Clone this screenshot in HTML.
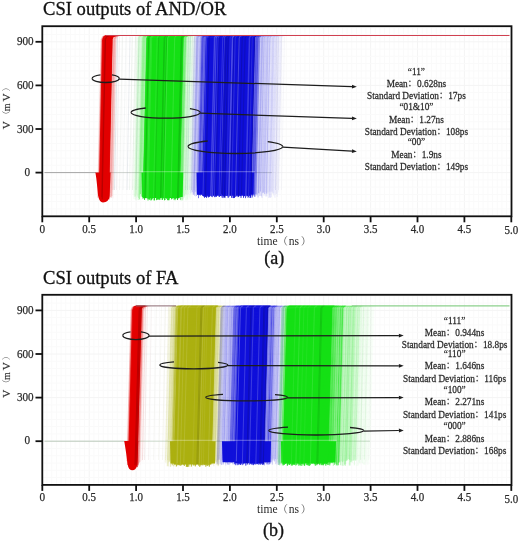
<!DOCTYPE html>
<html><head><meta charset="utf-8"><title>CSI outputs</title>
<style>
html,body{margin:0;padding:0;background:#fff;}
body{width:520px;height:542px;overflow:hidden;}
svg{display:block;font-family:"Liberation Serif", "Noto Serif CJK SC", serif;}
</style></head>
<body>
<svg width="520" height="542" viewBox="0 0 520 542">
<rect width="520" height="542" fill="#fff"/>
<line x1="46.99" y1="27.2" x2="46.99" y2="215.3" stroke="#fafafa"/>
<line x1="51.68" y1="27.2" x2="51.68" y2="215.3" stroke="#fafafa"/>
<line x1="56.37" y1="27.2" x2="56.37" y2="215.3" stroke="#fafafa"/>
<line x1="61.06" y1="27.2" x2="61.06" y2="215.3" stroke="#fafafa"/>
<line x1="65.75" y1="27.2" x2="65.75" y2="215.3" stroke="#fafafa"/>
<line x1="70.44" y1="27.2" x2="70.44" y2="215.3" stroke="#fafafa"/>
<line x1="75.13" y1="27.2" x2="75.13" y2="215.3" stroke="#fafafa"/>
<line x1="79.82" y1="27.2" x2="79.82" y2="215.3" stroke="#fafafa"/>
<line x1="84.51" y1="27.2" x2="84.51" y2="215.3" stroke="#fafafa"/>
<line x1="89.2" y1="27.2" x2="89.2" y2="215.3" stroke="#f4f4f4"/>
<line x1="93.89" y1="27.2" x2="93.89" y2="215.3" stroke="#fafafa"/>
<line x1="98.58" y1="27.2" x2="98.58" y2="215.3" stroke="#fafafa"/>
<line x1="103.27" y1="27.2" x2="103.27" y2="215.3" stroke="#fafafa"/>
<line x1="107.96" y1="27.2" x2="107.96" y2="215.3" stroke="#fafafa"/>
<line x1="112.65" y1="27.2" x2="112.65" y2="215.3" stroke="#fafafa"/>
<line x1="117.34" y1="27.2" x2="117.34" y2="215.3" stroke="#fafafa"/>
<line x1="122.03" y1="27.2" x2="122.03" y2="215.3" stroke="#fafafa"/>
<line x1="126.72" y1="27.2" x2="126.72" y2="215.3" stroke="#fafafa"/>
<line x1="131.41" y1="27.2" x2="131.41" y2="215.3" stroke="#fafafa"/>
<line x1="136.1" y1="27.2" x2="136.1" y2="215.3" stroke="#f4f4f4"/>
<line x1="140.79" y1="27.2" x2="140.79" y2="215.3" stroke="#fafafa"/>
<line x1="145.48" y1="27.2" x2="145.48" y2="215.3" stroke="#fafafa"/>
<line x1="150.17" y1="27.2" x2="150.17" y2="215.3" stroke="#fafafa"/>
<line x1="154.86" y1="27.2" x2="154.86" y2="215.3" stroke="#fafafa"/>
<line x1="159.55" y1="27.2" x2="159.55" y2="215.3" stroke="#fafafa"/>
<line x1="164.24" y1="27.2" x2="164.24" y2="215.3" stroke="#fafafa"/>
<line x1="168.93" y1="27.2" x2="168.93" y2="215.3" stroke="#fafafa"/>
<line x1="173.62" y1="27.2" x2="173.62" y2="215.3" stroke="#fafafa"/>
<line x1="178.31" y1="27.2" x2="178.31" y2="215.3" stroke="#fafafa"/>
<line x1="183" y1="27.2" x2="183" y2="215.3" stroke="#f4f4f4"/>
<line x1="187.69" y1="27.2" x2="187.69" y2="215.3" stroke="#fafafa"/>
<line x1="192.38" y1="27.2" x2="192.38" y2="215.3" stroke="#fafafa"/>
<line x1="197.07" y1="27.2" x2="197.07" y2="215.3" stroke="#fafafa"/>
<line x1="201.76" y1="27.2" x2="201.76" y2="215.3" stroke="#fafafa"/>
<line x1="206.45" y1="27.2" x2="206.45" y2="215.3" stroke="#fafafa"/>
<line x1="211.14" y1="27.2" x2="211.14" y2="215.3" stroke="#fafafa"/>
<line x1="215.83" y1="27.2" x2="215.83" y2="215.3" stroke="#fafafa"/>
<line x1="220.52" y1="27.2" x2="220.52" y2="215.3" stroke="#fafafa"/>
<line x1="225.21" y1="27.2" x2="225.21" y2="215.3" stroke="#fafafa"/>
<line x1="229.9" y1="27.2" x2="229.9" y2="215.3" stroke="#f4f4f4"/>
<line x1="234.59" y1="27.2" x2="234.59" y2="215.3" stroke="#fafafa"/>
<line x1="239.28" y1="27.2" x2="239.28" y2="215.3" stroke="#fafafa"/>
<line x1="243.97" y1="27.2" x2="243.97" y2="215.3" stroke="#fafafa"/>
<line x1="248.66" y1="27.2" x2="248.66" y2="215.3" stroke="#fafafa"/>
<line x1="253.35" y1="27.2" x2="253.35" y2="215.3" stroke="#fafafa"/>
<line x1="258.04" y1="27.2" x2="258.04" y2="215.3" stroke="#fafafa"/>
<line x1="262.73" y1="27.2" x2="262.73" y2="215.3" stroke="#fafafa"/>
<line x1="267.42" y1="27.2" x2="267.42" y2="215.3" stroke="#fafafa"/>
<line x1="272.11" y1="27.2" x2="272.11" y2="215.3" stroke="#fafafa"/>
<line x1="276.8" y1="27.2" x2="276.8" y2="215.3" stroke="#f4f4f4"/>
<line x1="281.49" y1="27.2" x2="281.49" y2="215.3" stroke="#fafafa"/>
<line x1="286.18" y1="27.2" x2="286.18" y2="215.3" stroke="#fafafa"/>
<line x1="290.87" y1="27.2" x2="290.87" y2="215.3" stroke="#fafafa"/>
<line x1="295.56" y1="27.2" x2="295.56" y2="215.3" stroke="#fafafa"/>
<line x1="300.25" y1="27.2" x2="300.25" y2="215.3" stroke="#fafafa"/>
<line x1="304.94" y1="27.2" x2="304.94" y2="215.3" stroke="#fafafa"/>
<line x1="309.63" y1="27.2" x2="309.63" y2="215.3" stroke="#fafafa"/>
<line x1="314.32" y1="27.2" x2="314.32" y2="215.3" stroke="#fafafa"/>
<line x1="319.01" y1="27.2" x2="319.01" y2="215.3" stroke="#fafafa"/>
<line x1="323.7" y1="27.2" x2="323.7" y2="215.3" stroke="#f4f4f4"/>
<line x1="328.39" y1="27.2" x2="328.39" y2="215.3" stroke="#fafafa"/>
<line x1="333.08" y1="27.2" x2="333.08" y2="215.3" stroke="#fafafa"/>
<line x1="337.77" y1="27.2" x2="337.77" y2="215.3" stroke="#fafafa"/>
<line x1="342.46" y1="27.2" x2="342.46" y2="215.3" stroke="#fafafa"/>
<line x1="347.15" y1="27.2" x2="347.15" y2="215.3" stroke="#fafafa"/>
<line x1="351.84" y1="27.2" x2="351.84" y2="215.3" stroke="#fafafa"/>
<line x1="356.53" y1="27.2" x2="356.53" y2="215.3" stroke="#fafafa"/>
<line x1="361.22" y1="27.2" x2="361.22" y2="215.3" stroke="#fafafa"/>
<line x1="365.91" y1="27.2" x2="365.91" y2="215.3" stroke="#fafafa"/>
<line x1="370.6" y1="27.2" x2="370.6" y2="215.3" stroke="#f4f4f4"/>
<line x1="375.29" y1="27.2" x2="375.29" y2="215.3" stroke="#fafafa"/>
<line x1="379.98" y1="27.2" x2="379.98" y2="215.3" stroke="#fafafa"/>
<line x1="384.67" y1="27.2" x2="384.67" y2="215.3" stroke="#fafafa"/>
<line x1="389.36" y1="27.2" x2="389.36" y2="215.3" stroke="#fafafa"/>
<line x1="394.05" y1="27.2" x2="394.05" y2="215.3" stroke="#fafafa"/>
<line x1="398.74" y1="27.2" x2="398.74" y2="215.3" stroke="#fafafa"/>
<line x1="403.43" y1="27.2" x2="403.43" y2="215.3" stroke="#fafafa"/>
<line x1="408.12" y1="27.2" x2="408.12" y2="215.3" stroke="#fafafa"/>
<line x1="412.81" y1="27.2" x2="412.81" y2="215.3" stroke="#fafafa"/>
<line x1="417.5" y1="27.2" x2="417.5" y2="215.3" stroke="#f4f4f4"/>
<line x1="422.19" y1="27.2" x2="422.19" y2="215.3" stroke="#fafafa"/>
<line x1="426.88" y1="27.2" x2="426.88" y2="215.3" stroke="#fafafa"/>
<line x1="431.57" y1="27.2" x2="431.57" y2="215.3" stroke="#fafafa"/>
<line x1="436.26" y1="27.2" x2="436.26" y2="215.3" stroke="#fafafa"/>
<line x1="440.95" y1="27.2" x2="440.95" y2="215.3" stroke="#fafafa"/>
<line x1="445.64" y1="27.2" x2="445.64" y2="215.3" stroke="#fafafa"/>
<line x1="450.33" y1="27.2" x2="450.33" y2="215.3" stroke="#fafafa"/>
<line x1="455.02" y1="27.2" x2="455.02" y2="215.3" stroke="#fafafa"/>
<line x1="459.71" y1="27.2" x2="459.71" y2="215.3" stroke="#fafafa"/>
<line x1="464.4" y1="27.2" x2="464.4" y2="215.3" stroke="#f4f4f4"/>
<line x1="469.09" y1="27.2" x2="469.09" y2="215.3" stroke="#fafafa"/>
<line x1="473.78" y1="27.2" x2="473.78" y2="215.3" stroke="#fafafa"/>
<line x1="478.47" y1="27.2" x2="478.47" y2="215.3" stroke="#fafafa"/>
<line x1="483.16" y1="27.2" x2="483.16" y2="215.3" stroke="#fafafa"/>
<line x1="487.85" y1="27.2" x2="487.85" y2="215.3" stroke="#fafafa"/>
<line x1="492.54" y1="27.2" x2="492.54" y2="215.3" stroke="#fafafa"/>
<line x1="497.23" y1="27.2" x2="497.23" y2="215.3" stroke="#fafafa"/>
<line x1="501.92" y1="27.2" x2="501.92" y2="215.3" stroke="#fafafa"/>
<line x1="506.61" y1="27.2" x2="506.61" y2="215.3" stroke="#fafafa"/>
<line x1="43.3" y1="208.93" x2="510.5" y2="208.93" stroke="#fafafa"/>
<line x1="43.3" y1="201.67" x2="510.5" y2="201.67" stroke="#fafafa"/>
<line x1="43.3" y1="194.4" x2="510.5" y2="194.4" stroke="#fafafa"/>
<line x1="43.3" y1="187.13" x2="510.5" y2="187.13" stroke="#fafafa"/>
<line x1="43.3" y1="179.87" x2="510.5" y2="179.87" stroke="#fafafa"/>
<line x1="43.3" y1="172.6" x2="510.5" y2="172.6" stroke="#f4f4f4"/>
<line x1="43.3" y1="165.33" x2="510.5" y2="165.33" stroke="#fafafa"/>
<line x1="43.3" y1="158.07" x2="510.5" y2="158.07" stroke="#fafafa"/>
<line x1="43.3" y1="150.8" x2="510.5" y2="150.8" stroke="#fafafa"/>
<line x1="43.3" y1="143.53" x2="510.5" y2="143.53" stroke="#fafafa"/>
<line x1="43.3" y1="136.27" x2="510.5" y2="136.27" stroke="#fafafa"/>
<line x1="43.3" y1="129" x2="510.5" y2="129" stroke="#f4f4f4"/>
<line x1="43.3" y1="121.73" x2="510.5" y2="121.73" stroke="#fafafa"/>
<line x1="43.3" y1="114.47" x2="510.5" y2="114.47" stroke="#fafafa"/>
<line x1="43.3" y1="107.2" x2="510.5" y2="107.2" stroke="#fafafa"/>
<line x1="43.3" y1="99.93" x2="510.5" y2="99.93" stroke="#fafafa"/>
<line x1="43.3" y1="92.67" x2="510.5" y2="92.67" stroke="#fafafa"/>
<line x1="43.3" y1="85.4" x2="510.5" y2="85.4" stroke="#f4f4f4"/>
<line x1="43.3" y1="78.13" x2="510.5" y2="78.13" stroke="#fafafa"/>
<line x1="43.3" y1="70.87" x2="510.5" y2="70.87" stroke="#fafafa"/>
<line x1="43.3" y1="63.6" x2="510.5" y2="63.6" stroke="#fafafa"/>
<line x1="43.3" y1="56.33" x2="510.5" y2="56.33" stroke="#fafafa"/>
<line x1="43.3" y1="49.07" x2="510.5" y2="49.07" stroke="#fafafa"/>
<line x1="43.3" y1="41.8" x2="510.5" y2="41.8" stroke="#f4f4f4"/>
<line x1="43.3" y1="34.53" x2="510.5" y2="34.53" stroke="#fafafa"/>
<line x1="43.3" y1="27.27" x2="510.5" y2="27.27" stroke="#fafafa"/>
<line x1="44.5" y1="172.6" x2="96" y2="172.6" stroke="#a6a6a6" stroke-width="1"/>
<line x1="96" y1="172.6" x2="272" y2="172.6" stroke="#d0d4d0" stroke-width="1"/>
<path d="M113,190 L116,36.5" stroke="#dd8888" stroke-opacity="0.3" stroke-width="0.9" fill="none"/>
<path d="M114.5,190 L117.5,36.5" stroke="#8899aa" stroke-opacity="0.25" stroke-width="0.9" fill="none"/>
<path d="M116.5,190 L119.5,36.5" stroke="#aa99aa" stroke-opacity="0.15" stroke-width="0.9" fill="none"/>
<path d="M119.5,190 L122.5,36.5" stroke="#99aa99" stroke-opacity="0.12" stroke-width="0.9" fill="none"/>
<path d="M123,190 L126,36.5" stroke="#99aaaa" stroke-opacity="0.12" stroke-width="0.9" fill="none"/>
<path d="M127,190 L130,36.5" stroke="#8899aa" stroke-opacity="0.2" stroke-width="0.9" fill="none"/>
<path d="M129.5,190 L132.5,36.5" stroke="#99bb99" stroke-opacity="0.15" stroke-width="0.9" fill="none"/>
<path d="M132.5,190 L135.5,36.5" stroke="#88bb88" stroke-opacity="0.2" stroke-width="0.9" fill="none"/>
<path d="M136,190 L139,36.5" stroke="#8899aa" stroke-opacity="0.2" stroke-width="0.9" fill="none"/>
<path d="M185.5,190 L188.5,36.5" stroke="#99aabb" stroke-opacity="0.25" stroke-width="0.9" fill="none"/>
<path d="M187.5,190 L190.5,36.5" stroke="#88aacc" stroke-opacity="0.3" stroke-width="0.9" fill="none"/>
<path d="M189.5,190 L192.5,36.5" stroke="#aabbcc" stroke-opacity="0.25" stroke-width="0.9" fill="none"/>
<path d="M191.5,190 L194.5,36.5" stroke="#99aabb" stroke-opacity="0.3" stroke-width="0.9" fill="none"/>
<path d="M194,190 L197,36.5" stroke="#8899cc" stroke-opacity="0.3" stroke-width="0.9" fill="none"/>
<path d="M275.5,190 L278.5,36.5" stroke="#9999cc" stroke-opacity="0.2" stroke-width="0.9" fill="none"/>
<path d="M278.5,190 L281.5,36.5" stroke="#aaaacc" stroke-opacity="0.15" stroke-width="0.9" fill="none"/>
<path d="M281.5,190 L284.5,36.5" stroke="#aaaacc" stroke-opacity="0.1" stroke-width="0.9" fill="none"/>
<path d="M95.4,172.4 C96.8,180 97.5,190 98.2,196 Q99.5,202.6 103,202.5 Q108.8,202.3 109.6,196 L110.6,172.4 Z" fill="#e20000"/>
<path d="M99.3,197.5 L103.1,38 L112.5,36.5 L108.7,197.5 Z" fill="#e20000"/>
<path d="M97.7,197.56 L101.02,39.5 Q101.5,35.5 105.5,35.5 M110.2,193.27 L113.52,39.5 Q114,35.5 118,35.5" fill="none" stroke="#e20000" stroke-opacity="0.16" stroke-width="0.9"/>
<path d="M98.2,197.91 L101.52,39.5 Q102,35.5 106,35.5 M109.7,198.3 L113.02,39.5 Q113.5,35.5 117.5,35.5" fill="none" stroke="#e20000" stroke-opacity="0.18" stroke-width="0.9"/>
<path d="M98.7,195.76 L102.02,39.5 Q102.5,35.5 106.5,35.5" fill="none" stroke="#e20000" stroke-opacity="0.41" stroke-width="0.9"/>
<path d="M99.2,195.67 L102.52,39.5 Q103,35.5 107,35.5 M99.7,195.81 L103.02,39.5 Q103.5,35.5 107.5,35.5 M100.2,197.41 L103.52,39.5 Q104,35.5 108,35.5 M100.7,196.06 L104.02,39.5 Q104.5,35.5 108.5,35.5 M101.2,198.32 L104.52,39.5 Q105,35.5 109,35.5 M102.7,196.15 L106.02,39.5 Q106.5,35.5 110.5,35.5 M103.2,196.89 L106.52,39.5 Q107,35.5 111,35.5 M103.7,196.31 L107.02,39.5 Q107.5,35.5 111.5,35.5 M104.2,198.38 L107.52,39.5 Q108,35.5 112,35.5 M104.7,197.96 L108.02,39.5 Q108.5,35.5 112.5,35.5 M105.2,195.77 L108.52,39.5 Q109,35.5 113,35.5 M105.7,198.56 L109.02,39.5 Q109.5,35.5 113.5,35.5 M106.2,196.91 L109.52,39.5 Q110,35.5 114,35.5 M106.7,197.54 L110.02,39.5 Q110.5,35.5 114.5,35.5 M107.2,199.07 L110.52,39.5 Q111,35.5 115,35.5 M107.7,196.6 L111.02,39.5 Q111.5,35.5 115.5,35.5 M108.2,197.86 L111.52,39.5 Q112,35.5 116,35.5 M108.7,198.78 L112.02,39.5 Q112.5,35.5 116.5,35.5" fill="none" stroke="#e20000" stroke-opacity="1.00" stroke-width="0.9"/>
<path d="M101.7,197.29 L105.02,39.5 Q105.5,35.5 109.5,35.5" fill="none" stroke="#c20000" stroke-opacity="1.00" stroke-width="0.9"/>
<path d="M102.2,199.36 L105.52,39.5 Q106,35.5 110,35.5" fill="none" stroke="#b60000" stroke-opacity="1.00" stroke-width="0.9"/>
<path d="M109.2,199.91 L112.52,39.5 Q113,35.5 117,35.5" fill="none" stroke="#e20000" stroke-opacity="0.27" stroke-width="0.9"/>
<path d="M110.7,197.01 L114.02,39.5 Q114.5,35.5 118.5,35.5" fill="none" stroke="#e20000" stroke-opacity="0.26" stroke-width="0.9"/>
<path d="M111.2,197.87 L114.52,39.5 Q115,35.5 119,35.5" fill="none" stroke="#e20000" stroke-opacity="0.24" stroke-width="0.9"/>
<path d="M111.7,196.19 L115.02,39.5 Q115.5,35.5 119.5,35.5" fill="none" stroke="#e20000" stroke-opacity="0.14" stroke-width="0.9"/>
<path d="M112.2,196.32 L115.52,39.5 Q116,35.5 120,35.5" fill="none" stroke="#e20000" stroke-opacity="0.12" stroke-width="0.9"/>
<path d="M112.7,197.91 L116.02,39.5 Q116.5,35.5 120.5,35.5" fill="none" stroke="#e20000" stroke-opacity="0.04" stroke-width="0.9"/>
<path d="M113.2,198.75 L116.52,39.5 Q117,35.5 121,35.5" fill="none" stroke="#e20000" stroke-opacity="0.03" stroke-width="0.9"/>
<path d="M113.7,197.68 L117.02,39.5 Q117.5,35.5 121.5,35.5" fill="none" stroke="#e20000" stroke-opacity="0.01" stroke-width="0.9"/>
<path d="M141.5,172.6 L183.2,172.6 L182.7,197.1 L142,197.1 Z" fill="#14e014"/>
<path d="M142.8,198.1 L146.8,38 L183.5,36.5 L179.5,198.1 Z" fill="#14e014"/>
<path d="M133,194.78 L136.7,38 Q137,35.5 139.5,35.5 M189,196.58 L192.7,38 Q193,35.5 195.5,35.5 M189.5,198.04 L193.2,38 Q193.5,35.5 196,35.5 M191,200.09 L194.7,38 Q195,35.5 197.5,35.5" fill="none" stroke="#14e014" stroke-opacity="0.03" stroke-width="0.9"/>
<path d="M133.5,198.98 L137.2,38 Q137.5,35.5 140,35.5 M134,196.34 L137.7,38 Q138,35.5 140.5,35.5" fill="none" stroke="#14e014" stroke-opacity="0.04" stroke-width="0.9"/>
<path d="M134.5,196.74 L138.2,38 Q138.5,35.5 141,35.5 M137.5,196.53 L141.2,38 Q141.5,35.5 144,35.5 M185.5,194.05 L189.2,38 Q189.5,35.5 192,35.5 M187,194.51 L190.7,38 Q191,35.5 193.5,35.5" fill="none" stroke="#14e014" stroke-opacity="0.11" stroke-width="0.9"/>
<path d="M135,199.33 L138.7,38 Q139,35.5 141.5,35.5 M136,200.3 L139.7,38 Q140,35.5 142.5,35.5 M184,195.83 L187.7,38 Q188,35.5 190.5,35.5 M185,195.92 L188.7,38 Q189,35.5 191.5,35.5" fill="none" stroke="#14e014" stroke-opacity="0.10" stroke-width="0.9"/>
<path d="M135.5,196.51 L139.2,38 Q139.5,35.5 142,35.5 M184.5,197.48 L188.2,38 Q188.5,35.5 191,35.5 M186,200.4 L189.7,38 Q190,35.5 192.5,35.5" fill="none" stroke="#14e014" stroke-opacity="0.14" stroke-width="0.9"/>
<path d="M136.5,195.22 L140.2,38 Q140.5,35.5 143,35.5 M183.5,197.21 L187.2,38 Q187.5,35.5 190,35.5" fill="none" stroke="#14e014" stroke-opacity="0.08" stroke-width="0.9"/>
<path d="M137,197.72 L140.7,38 Q141,35.5 143.5,35.5" fill="none" stroke="#14e014" stroke-opacity="0.09" stroke-width="0.9"/>
<path d="M138,200.27 L141.7,38 Q142,35.5 144.5,35.5" fill="none" stroke="#14e014" stroke-opacity="0.13" stroke-width="0.9"/>
<path d="M138.5,197.92 L142.2,38 Q142.5,35.5 145,35.5 M182.5,196.39 L186.2,38 Q186.5,35.5 189,35.5" fill="none" stroke="#14e014" stroke-opacity="0.20" stroke-width="0.9"/>
<path d="M139,199.9 L142.7,38 Q143,35.5 145.5,35.5" fill="none" stroke="#14e014" stroke-opacity="0.27" stroke-width="0.9"/>
<path d="M139.5,199.19 L143.2,38 Q143.5,35.5 146,35.5" fill="none" stroke="#14e014" stroke-opacity="0.33" stroke-width="0.9"/>
<path d="M140,194.32 L143.7,38 Q144,35.5 146.5,35.5 M142.5,197.74 L146.2,38 Q146.5,35.5 149,35.5 M180,199.11 L183.7,38 Q184,35.5 186.5,35.5" fill="none" stroke="#14e014" stroke-opacity="0.25" stroke-width="0.9"/>
<path d="M140.5,194.07 L144.2,38 Q144.5,35.5 147,35.5" fill="none" stroke="#14e014" stroke-opacity="0.36" stroke-width="0.9"/>
<path d="M141,196.83 L144.7,38 Q145,35.5 147.5,35.5 M181,199.32 L184.7,38 Q185,35.5 187.5,35.5" fill="none" stroke="#14e014" stroke-opacity="0.24" stroke-width="0.9"/>
<path d="M141.5,196.34 L145.2,38 Q145.5,35.5 148,35.5" fill="none" stroke="#14e014" stroke-opacity="0.31" stroke-width="0.9"/>
<path d="M142,196.78 L145.7,38 Q146,35.5 148.5,35.5" fill="none" stroke="#14e014" stroke-opacity="0.19" stroke-width="0.9"/>
<path d="M143,198.86 L146.7,38 Q147,35.5 149.5,35.5" fill="none" stroke="#37e537" stroke-opacity="1.00" stroke-width="0.9"/>
<path d="M143.5,197.24 L147.2,38 Q147.5,35.5 150,35.5 M144,197.74 L147.7,38 Q148,35.5 150.5,35.5 M144.5,199.92 L148.2,38 Q148.5,35.5 151,35.5 M145.5,196.56 L149.2,38 Q149.5,35.5 152,35.5 M146,197.29 L149.7,38 Q150,35.5 152.5,35.5 M146.5,196.83 L150.2,38 Q150.5,35.5 153,35.5 M147.5,198.54 L151.2,38 Q151.5,35.5 154,35.5 M148.5,199.23 L152.2,38 Q152.5,35.5 155,35.5 M149,197.75 L152.7,38 Q153,35.5 155.5,35.5 M149.5,199.57 L153.2,38 Q153.5,35.5 156,35.5 M150,199.61 L153.7,38 Q154,35.5 156.5,35.5 M150.5,197.1 L154.2,38 Q154.5,35.5 157,35.5 M151,200.53 L154.7,38 Q155,35.5 157.5,35.5 M151.5,199.73 L155.2,38 Q155.5,35.5 158,35.5 M152,199.43 L155.7,38 Q156,35.5 158.5,35.5 M152.5,198.43 L156.2,38 Q156.5,35.5 159,35.5 M153,196.23 L156.7,38 Q157,35.5 159.5,35.5 M154,200.4 L157.7,38 Q158,35.5 160.5,35.5 M154.5,200.32 L158.2,38 Q158.5,35.5 161,35.5 M155.5,197.12 L159.2,38 Q159.5,35.5 162,35.5 M156,197.02 L159.7,38 Q160,35.5 162.5,35.5 M156.5,200.15 L160.2,38 Q160.5,35.5 163,35.5 M157,198.26 L160.7,38 Q161,35.5 163.5,35.5 M157.5,199.7 L161.2,38 Q161.5,35.5 164,35.5 M158,199.07 L161.7,38 Q162,35.5 164.5,35.5 M158.5,199.62 L162.2,38 Q162.5,35.5 165,35.5 M159,198.25 L162.7,38 Q163,35.5 165.5,35.5 M159.5,199.65 L163.2,38 Q163.5,35.5 166,35.5 M160,199.7 L163.7,38 Q164,35.5 166.5,35.5 M161.5,196.78 L165.2,38 Q165.5,35.5 168,35.5 M162,199.73 L165.7,38 Q166,35.5 168.5,35.5 M162.5,199.82 L166.2,38 Q166.5,35.5 169,35.5 M163.5,196.69 L167.2,38 Q167.5,35.5 170,35.5 M164.5,200.3 L168.2,38 Q168.5,35.5 171,35.5 M165,200.02 L168.7,38 Q169,35.5 171.5,35.5 M165.5,197.05 L169.2,38 Q169.5,35.5 172,35.5 M166,197.42 L169.7,38 Q170,35.5 172.5,35.5 M166.5,198.74 L170.2,38 Q170.5,35.5 173,35.5 M167,197.99 L170.7,38 Q171,35.5 173.5,35.5 M167.5,200.2 L171.2,38 Q171.5,35.5 174,35.5 M168,198.16 L171.7,38 Q172,35.5 174.5,35.5 M168.5,200.17 L172.2,38 Q172.5,35.5 175,35.5 M169,200.23 L172.7,38 Q173,35.5 175.5,35.5 M169.5,198.49 L173.2,38 Q173.5,35.5 176,35.5 M170,196.18 L173.7,38 Q174,35.5 176.5,35.5 M170.5,196.92 L174.2,38 Q174.5,35.5 177,35.5 M171.5,199.36 L175.2,38 Q175.5,35.5 178,35.5 M172,197.57 L175.7,38 Q176,35.5 178.5,35.5 M172.5,198.6 L176.2,38 Q176.5,35.5 179,35.5 M173,196.58 L176.7,38 Q177,35.5 179.5,35.5 M173.5,197.22 L177.2,38 Q177.5,35.5 180,35.5 M174,199.58 L177.7,38 Q178,35.5 180.5,35.5 M174.5,198.63 L178.2,38 Q178.5,35.5 181,35.5 M175,200.21 L178.7,38 Q179,35.5 181.5,35.5 M175.5,198.86 L179.2,38 Q179.5,35.5 182,35.5 M176,198.4 L179.7,38 Q180,35.5 182.5,35.5 M176.5,198.14 L180.2,38 Q180.5,35.5 183,35.5 M177,198.25 L180.7,38 Q181,35.5 183.5,35.5 M179,198.09 L182.7,38 Q183,35.5 185.5,35.5 M179.5,197.18 L183.2,38 Q183.5,35.5 186,35.5" fill="none" stroke="#14e014" stroke-opacity="1.00" stroke-width="0.9"/>
<path d="M145,198.28 L148.7,38 Q149,35.5 151.5,35.5" fill="none" stroke="#11be11" stroke-opacity="1.00" stroke-width="0.9"/>
<path d="M147,198.48 L150.7,38 Q151,35.5 153.5,35.5" fill="none" stroke="#38e538" stroke-opacity="1.00" stroke-width="0.9"/>
<path d="M148,200.5 L151.7,38 Q152,35.5 154.5,35.5" fill="none" stroke="#2fe32f" stroke-opacity="1.00" stroke-width="0.9"/>
<path d="M153.5,197.27 L157.2,38 Q157.5,35.5 160,35.5" fill="none" stroke="#29e329" stroke-opacity="1.00" stroke-width="0.9"/>
<path d="M155,197.74 L158.7,38 Q159,35.5 161.5,35.5" fill="none" stroke="#12c912" stroke-opacity="1.00" stroke-width="0.9"/>
<path d="M160.5,197.91 L164.2,38 Q164.5,35.5 167,35.5" fill="none" stroke="#11bc11" stroke-opacity="1.00" stroke-width="0.9"/>
<path d="M161,196.87 L164.7,38 Q165,35.5 167.5,35.5 M177.5,200.04 L181.2,38 Q181.5,35.5 184,35.5" fill="none" stroke="#11c311" stroke-opacity="1.00" stroke-width="0.9"/>
<path d="M163,197.68 L166.7,38 Q167,35.5 169.5,35.5" fill="none" stroke="#11c211" stroke-opacity="1.00" stroke-width="0.9"/>
<path d="M164,199.02 L167.7,38 Q168,35.5 170.5,35.5" fill="none" stroke="#39e539" stroke-opacity="1.00" stroke-width="0.9"/>
<path d="M171,196.88 L174.7,38 Q175,35.5 177.5,35.5" fill="none" stroke="#35e435" stroke-opacity="1.00" stroke-width="0.9"/>
<path d="M178,198.62 L181.7,38 Q182,35.5 184.5,35.5" fill="none" stroke="#11b911" stroke-opacity="1.00" stroke-width="0.9"/>
<path d="M178.5,196.72 L182.2,38 Q182.5,35.5 185,35.5" fill="none" stroke="#12c612" stroke-opacity="1.00" stroke-width="0.9"/>
<path d="M180.5,200.14 L184.2,38 Q184.5,35.5 187,35.5" fill="none" stroke="#14e014" stroke-opacity="0.55" stroke-width="0.9"/>
<path d="M181.5,196.74 L185.2,38 Q185.5,35.5 188,35.5" fill="none" stroke="#14e014" stroke-opacity="0.42" stroke-width="0.9"/>
<path d="M182,200.45 L185.7,38 Q186,35.5 188.5,35.5" fill="none" stroke="#14e014" stroke-opacity="0.46" stroke-width="0.9"/>
<path d="M183,199.43 L186.7,38 Q187,35.5 189.5,35.5" fill="none" stroke="#14e014" stroke-opacity="0.26" stroke-width="0.9"/>
<path d="M186.5,193.88 L190.2,38 Q190.5,35.5 193,35.5 M188,200.03 L191.7,38 Q192,35.5 194.5,35.5" fill="none" stroke="#14e014" stroke-opacity="0.05" stroke-width="0.9"/>
<path d="M187.5,199.33 L191.2,38 Q191.5,35.5 194,35.5 M188.5,194.23 L192.2,38 Q192.5,35.5 195,35.5" fill="none" stroke="#14e014" stroke-opacity="0.07" stroke-width="0.9"/>
<path d="M190,199.59 L193.7,38 Q194,35.5 196.5,35.5" fill="none" stroke="#14e014" stroke-opacity="0.06" stroke-width="0.9"/>
<path d="M190.5,196.78 L194.2,38 Q194.5,35.5 197,35.5 M191.5,197.29 L195.2,38 Q195.5,35.5 198,35.5" fill="none" stroke="#14e014" stroke-opacity="0.02" stroke-width="0.9"/>
<path d="M192,194.73 L195.7,38 Q196,35.5 198.5,35.5" fill="none" stroke="#14e014" stroke-opacity="0.01" stroke-width="0.9"/>
<path d="M196.5,172.6 L254,172.6 L253.5,194.8 L197,194.8 Z" fill="#1010da"/>
<path d="M202,195.8 L206,38 L255,36.5 L251,195.8 Z" fill="#1010da"/>
<path d="M190,193.48 L193.7,38 Q194,35.5 196.5,35.5 M276.5,194.75 L280.2,38 Q280.5,35.5 283,35.5 M278,193.54 L281.7,38 Q282,35.5 284.5,35.5" fill="none" stroke="#1010da" stroke-opacity="0.03" stroke-width="0.9"/>
<path d="M190.5,193.33 L194.2,38 Q194.5,35.5 197,35.5 M267.5,193.95 L271.2,38 Q271.5,35.5 274,35.5 M273.5,195.62 L277.2,38 Q277.5,35.5 280,35.5 M274,193.52 L277.7,38 Q278,35.5 280.5,35.5 M276,194.01 L279.7,38 Q280,35.5 282.5,35.5" fill="none" stroke="#1010da" stroke-opacity="0.06" stroke-width="0.9"/>
<path d="M191,193.73 L194.7,38 Q195,35.5 197.5,35.5 M257.5,194.52 L261.2,38 Q261.5,35.5 264,35.5 M265,192.29 L268.7,38 Q269,35.5 271.5,35.5" fill="none" stroke="#1010da" stroke-opacity="0.09" stroke-width="0.9"/>
<path d="M191.5,191.41 L195.2,38 Q195.5,35.5 198,35.5 M268.5,193.76 L272.2,38 Q272.5,35.5 275,35.5 M271.5,196.98 L275.2,38 Q275.5,35.5 278,35.5 M272.5,193.1 L276.2,38 Q276.5,35.5 279,35.5 M277,196.92 L280.7,38 Q281,35.5 283.5,35.5" fill="none" stroke="#1010da" stroke-opacity="0.05" stroke-width="0.9"/>
<path d="M192,192.63 L195.7,38 Q196,35.5 198.5,35.5 M270,191.64 L273.7,38 Q274,35.5 276.5,35.5" fill="none" stroke="#1010da" stroke-opacity="0.14" stroke-width="0.9"/>
<path d="M192.5,192.04 L196.2,38 Q196.5,35.5 199,35.5 M195.5,196.49 L199.2,38 Q199.5,35.5 202,35.5 M262.5,192.92 L266.2,38 Q266.5,35.5 269,35.5 M272,191.54 L275.7,38 Q276,35.5 278.5,35.5" fill="none" stroke="#1010da" stroke-opacity="0.12" stroke-width="0.9"/>
<path d="M193,194.77 L196.7,38 Q197,35.5 199.5,35.5" fill="none" stroke="#1010da" stroke-opacity="0.18" stroke-width="0.9"/>
<path d="M193.5,194.85 L197.2,38 Q197.5,35.5 200,35.5" fill="none" stroke="#1010da" stroke-opacity="0.20" stroke-width="0.9"/>
<path d="M194,193.7 L197.7,38 Q198,35.5 200.5,35.5 M266,196.43 L269.7,38 Q270,35.5 272.5,35.5 M266.5,193.6 L270.2,38 Q270.5,35.5 273,35.5" fill="none" stroke="#1010da" stroke-opacity="0.19" stroke-width="0.9"/>
<path d="M194.5,195.75 L198.2,38 Q198.5,35.5 201,35.5" fill="none" stroke="#1010da" stroke-opacity="0.23" stroke-width="0.9"/>
<path d="M195,191.68 L198.7,38 Q199,35.5 201.5,35.5 M262,198.09 L265.7,38 Q266,35.5 268.5,35.5 M269,198.05 L272.7,38 Q273,35.5 275.5,35.5" fill="none" stroke="#1010da" stroke-opacity="0.16" stroke-width="0.9"/>
<path d="M196,191.89 L199.7,38 Q200,35.5 202.5,35.5 M260,195.97 L263.7,38 Q264,35.5 266.5,35.5" fill="none" stroke="#1010da" stroke-opacity="0.15" stroke-width="0.9"/>
<path d="M196.5,195.99 L200.2,38 Q200.5,35.5 203,35.5 M251.5,196.15 L255.2,38 Q255.5,35.5 258,35.5" fill="none" stroke="#1010da" stroke-opacity="0.30" stroke-width="0.9"/>
<path d="M197,193.35 L200.7,38 Q201,35.5 203.5,35.5 M257,195.51 L260.7,38 Q261,35.5 263.5,35.5 M258.5,193.03 L262.2,38 Q262.5,35.5 265,35.5" fill="none" stroke="#1010da" stroke-opacity="0.17" stroke-width="0.9"/>
<path d="M197.5,194.51 L201.2,38 Q201.5,35.5 204,35.5" fill="none" stroke="#1010da" stroke-opacity="0.39" stroke-width="0.9"/>
<path d="M198,194.98 L201.7,38 Q202,35.5 204.5,35.5" fill="none" stroke="#1010da" stroke-opacity="0.40" stroke-width="0.9"/>
<path d="M198.5,198.18 L202.2,38 Q202.5,35.5 205,35.5" fill="none" stroke="#1010da" stroke-opacity="0.66" stroke-width="0.9"/>
<path d="M199,194.9 L202.7,38 Q203,35.5 205.5,35.5" fill="none" stroke="#1010da" stroke-opacity="0.48" stroke-width="0.9"/>
<path d="M199.5,195.19 L203.2,38 Q203.5,35.5 206,35.5" fill="none" stroke="#1010da" stroke-opacity="0.71" stroke-width="0.9"/>
<path d="M200,193.8 L203.7,38 Q204,35.5 206.5,35.5 M202,194.2 L205.7,38 Q206,35.5 208.5,35.5" fill="none" stroke="#1010da" stroke-opacity="0.41" stroke-width="0.9"/>
<path d="M200.5,195.94 L204.2,38 Q204.5,35.5 207,35.5" fill="none" stroke="#1010da" stroke-opacity="0.44" stroke-width="0.9"/>
<path d="M201,194.7 L204.7,38 Q205,35.5 207.5,35.5" fill="none" stroke="#1010da" stroke-opacity="0.52" stroke-width="0.9"/>
<path d="M201.5,193.82 L205.2,38 Q205.5,35.5 208,35.5" fill="none" stroke="#1010da" stroke-opacity="0.54" stroke-width="0.9"/>
<path d="M202.5,193.99 L206.2,38 Q206.5,35.5 209,35.5 M203.5,196.18 L207.2,38 Q207.5,35.5 210,35.5 M204,196.76 L207.7,38 Q208,35.5 210.5,35.5 M204.5,197.76 L208.2,38 Q208.5,35.5 211,35.5 M205,195.27 L208.7,38 Q209,35.5 211.5,35.5 M206,194 L209.7,38 Q210,35.5 212.5,35.5 M206.5,197.81 L210.2,38 Q210.5,35.5 213,35.5 M207,197.1 L210.7,38 Q211,35.5 213.5,35.5 M207.5,194.43 L211.2,38 Q211.5,35.5 214,35.5 M208,196.07 L211.7,38 Q212,35.5 214.5,35.5 M208.5,197.42 L212.2,38 Q212.5,35.5 215,35.5 M209,196.43 L212.7,38 Q213,35.5 215.5,35.5 M209.5,196.87 L213.2,38 Q213.5,35.5 216,35.5 M210,194.83 L213.7,38 Q214,35.5 216.5,35.5 M211.5,196.62 L215.2,38 Q215.5,35.5 218,35.5 M212,196 L215.7,38 Q216,35.5 218.5,35.5 M213,196.21 L216.7,38 Q217,35.5 219.5,35.5 M213.5,194.1 L217.2,38 Q217.5,35.5 220,35.5 M214,194.93 L217.7,38 Q218,35.5 220.5,35.5 M215,197.13 L218.7,38 Q219,35.5 221.5,35.5 M216,196.88 L219.7,38 Q220,35.5 222.5,35.5 M216.5,196.58 L220.2,38 Q220.5,35.5 223,35.5 M217,194.15 L220.7,38 Q221,35.5 223.5,35.5 M217.5,194.94 L221.2,38 Q221.5,35.5 224,35.5 M218,195.17 L221.7,38 Q222,35.5 224.5,35.5 M218.5,193.86 L222.2,38 Q222.5,35.5 225,35.5 M219.5,196.84 L223.2,38 Q223.5,35.5 226,35.5 M220,196.12 L223.7,38 Q224,35.5 226.5,35.5 M220.5,195.9 L224.2,38 Q224.5,35.5 227,35.5 M222,197.49 L225.7,38 Q226,35.5 228.5,35.5 M223,198.06 L226.7,38 Q227,35.5 229.5,35.5 M223.5,196.42 L227.2,38 Q227.5,35.5 230,35.5 M224,196.16 L227.7,38 Q228,35.5 230.5,35.5 M225,197.79 L228.7,38 Q229,35.5 231.5,35.5 M225.5,194.84 L229.2,38 Q229.5,35.5 232,35.5 M226,195.99 L229.7,38 Q230,35.5 232.5,35.5 M227,195.16 L230.7,38 Q231,35.5 233.5,35.5 M227.5,195.35 L231.2,38 Q231.5,35.5 234,35.5 M228,197.58 L231.7,38 Q232,35.5 234.5,35.5 M229.5,195.1 L233.2,38 Q233.5,35.5 236,35.5 M230,195.57 L233.7,38 Q234,35.5 236.5,35.5 M231,195.04 L234.7,38 Q235,35.5 237.5,35.5 M232,198.01 L235.7,38 Q236,35.5 238.5,35.5 M232.5,195 L236.2,38 Q236.5,35.5 239,35.5 M233,194.65 L236.7,38 Q237,35.5 239.5,35.5 M233.5,198.1 L237.2,38 Q237.5,35.5 240,35.5 M234,197.45 L237.7,38 Q238,35.5 240.5,35.5 M234.5,197.91 L238.2,38 Q238.5,35.5 241,35.5 M236,196.7 L239.7,38 Q240,35.5 242.5,35.5 M236.5,194.02 L240.2,38 Q240.5,35.5 243,35.5 M237,194.37 L240.7,38 Q241,35.5 243.5,35.5 M237.5,195.35 L241.2,38 Q241.5,35.5 244,35.5 M238,197.13 L241.7,38 Q242,35.5 244.5,35.5 M239,196.31 L242.7,38 Q243,35.5 245.5,35.5 M239.5,194.55 L243.2,38 Q243.5,35.5 246,35.5 M240,194.74 L243.7,38 Q244,35.5 246.5,35.5 M240.5,196.04 L244.2,38 Q244.5,35.5 247,35.5 M241,197.88 L244.7,38 Q245,35.5 247.5,35.5 M242,194.21 L245.7,38 Q246,35.5 248.5,35.5 M242.5,194.21 L246.2,38 Q246.5,35.5 249,35.5 M243,194.96 L246.7,38 Q247,35.5 249.5,35.5 M243.5,197.79 L247.2,38 Q247.5,35.5 250,35.5 M244,195.66 L247.7,38 Q248,35.5 250.5,35.5 M244.5,196.16 L248.2,38 Q248.5,35.5 251,35.5 M245,195.32 L248.7,38 Q249,35.5 251.5,35.5 M246.5,194.77 L250.2,38 Q250.5,35.5 253,35.5 M247,194.92 L250.7,38 Q251,35.5 253.5,35.5 M247.5,195.81 L251.2,38 Q251.5,35.5 254,35.5 M249,195.93 L252.7,38 Q253,35.5 255.5,35.5 M249.5,193.8 L253.2,38 Q253.5,35.5 256,35.5 M250,197.97 L253.7,38 Q254,35.5 256.5,35.5 M250.5,197.65 L254.2,38 Q254.5,35.5 257,35.5" fill="none" stroke="#1010da" stroke-opacity="1.00" stroke-width="0.9"/>
<path d="M203,194.85 L206.7,38 Q207,35.5 209.5,35.5" fill="none" stroke="#3a3ae0" stroke-opacity="1.00" stroke-width="0.9"/>
<path d="M205.5,197.06 L209.2,38 Q209.5,35.5 212,35.5" fill="none" stroke="#0d0db2" stroke-opacity="1.00" stroke-width="0.9"/>
<path d="M210.5,195.42 L214.2,38 Q214.5,35.5 217,35.5" fill="none" stroke="#3232df" stroke-opacity="1.00" stroke-width="0.9"/>
<path d="M211,196.31 L214.7,38 Q215,35.5 217.5,35.5" fill="none" stroke="#5151e4" stroke-opacity="1.00" stroke-width="0.9"/>
<path d="M212.5,197.17 L216.2,38 Q216.5,35.5 219,35.5" fill="none" stroke="#4f4fe4" stroke-opacity="1.00" stroke-width="0.9"/>
<path d="M214.5,197.08 L218.2,38 Q218.5,35.5 221,35.5 M219,196.82 L222.7,38 Q223,35.5 225.5,35.5" fill="none" stroke="#3838e0" stroke-opacity="1.00" stroke-width="0.9"/>
<path d="M215.5,195.52 L219.2,38 Q219.5,35.5 222,35.5" fill="none" stroke="#0e0eb9" stroke-opacity="1.00" stroke-width="0.9"/>
<path d="M221,194.7 L224.7,38 Q225,35.5 227.5,35.5" fill="none" stroke="#5353e4" stroke-opacity="1.00" stroke-width="0.9"/>
<path d="M221.5,193.88 L225.2,38 Q225.5,35.5 228,35.5" fill="none" stroke="#0e0ec3" stroke-opacity="1.00" stroke-width="0.9"/>
<path d="M222.5,195.01 L226.2,38 Q226.5,35.5 229,35.5 M241.5,194.43 L245.2,38 Q245.5,35.5 248,35.5" fill="none" stroke="#0e0eb8" stroke-opacity="1.00" stroke-width="0.9"/>
<path d="M224.5,197.49 L228.2,38 Q228.5,35.5 231,35.5" fill="none" stroke="#0d0db1" stroke-opacity="1.00" stroke-width="0.9"/>
<path d="M226.5,196.01 L230.2,38 Q230.5,35.5 233,35.5" fill="none" stroke="#2d2dde" stroke-opacity="1.00" stroke-width="0.9"/>
<path d="M228.5,197.58 L232.2,38 Q232.5,35.5 235,35.5" fill="none" stroke="#4d4de3" stroke-opacity="1.00" stroke-width="0.9"/>
<path d="M229,197.01 L232.7,38 Q233,35.5 235.5,35.5" fill="none" stroke="#5555e5" stroke-opacity="1.00" stroke-width="0.9"/>
<path d="M230.5,195.42 L234.2,38 Q234.5,35.5 237,35.5" fill="none" stroke="#0e0ebb" stroke-opacity="1.00" stroke-width="0.9"/>
<path d="M231.5,197.56 L235.2,38 Q235.5,35.5 238,35.5" fill="none" stroke="#3131df" stroke-opacity="1.00" stroke-width="0.9"/>
<path d="M235,197.04 L238.7,38 Q239,35.5 241.5,35.5" fill="none" stroke="#0e0eba" stroke-opacity="1.00" stroke-width="0.9"/>
<path d="M235.5,195.83 L239.2,38 Q239.5,35.5 242,35.5" fill="none" stroke="#4c4ce3" stroke-opacity="1.00" stroke-width="0.9"/>
<path d="M238.5,196.75 L242.2,38 Q242.5,35.5 245,35.5 M251,194.29 L254.7,38 Q255,35.5 257.5,35.5" fill="none" stroke="#0d0db4" stroke-opacity="1.00" stroke-width="0.9"/>
<path d="M245.5,198.15 L249.2,38 Q249.5,35.5 252,35.5" fill="none" stroke="#3939e0" stroke-opacity="1.00" stroke-width="0.9"/>
<path d="M246,196.63 L249.7,38 Q250,35.5 252.5,35.5" fill="none" stroke="#4242e2" stroke-opacity="1.00" stroke-width="0.9"/>
<path d="M248,197.73 L251.7,38 Q252,35.5 254.5,35.5" fill="none" stroke="#0e0ec1" stroke-opacity="1.00" stroke-width="0.9"/>
<path d="M248.5,196.99 L252.2,38 Q252.5,35.5 255,35.5" fill="none" stroke="#2e2edf" stroke-opacity="1.00" stroke-width="0.9"/>
<path d="M252,198.04 L255.7,38 Q256,35.5 258.5,35.5 M254,194.85 L257.7,38 Q258,35.5 260.5,35.5" fill="none" stroke="#1010da" stroke-opacity="0.56" stroke-width="0.9"/>
<path d="M252.5,196.71 L256.2,38 Q256.5,35.5 259,35.5" fill="none" stroke="#1010da" stroke-opacity="0.57" stroke-width="0.9"/>
<path d="M253,195.86 L256.7,38 Q257,35.5 259.5,35.5" fill="none" stroke="#1010da" stroke-opacity="0.58" stroke-width="0.9"/>
<path d="M253.5,193.98 L257.2,38 Q257.5,35.5 260,35.5" fill="none" stroke="#1010da" stroke-opacity="0.46" stroke-width="0.9"/>
<path d="M254.5,196.7 L258.2,38 Q258.5,35.5 261,35.5" fill="none" stroke="#1010da" stroke-opacity="0.61" stroke-width="0.9"/>
<path d="M255,194.38 L258.7,38 Q259,35.5 261.5,35.5" fill="none" stroke="#1010da" stroke-opacity="0.32" stroke-width="0.9"/>
<path d="M255.5,196.66 L259.2,38 Q259.5,35.5 262,35.5" fill="none" stroke="#1010da" stroke-opacity="0.29" stroke-width="0.9"/>
<path d="M256,194.3 L259.7,38 Q260,35.5 262.5,35.5" fill="none" stroke="#1010da" stroke-opacity="0.47" stroke-width="0.9"/>
<path d="M256.5,195.38 L260.2,38 Q260.5,35.5 263,35.5 M263,193.36 L266.7,38 Q267,35.5 269.5,35.5 M264,195.96 L267.7,38 Q268,35.5 270.5,35.5 M268,192.48 L271.7,38 Q272,35.5 274.5,35.5 M270.5,197.74 L274.2,38 Q274.5,35.5 277,35.5" fill="none" stroke="#1010da" stroke-opacity="0.10" stroke-width="0.9"/>
<path d="M258,197.49 L261.7,38 Q262,35.5 264.5,35.5" fill="none" stroke="#1010da" stroke-opacity="0.27" stroke-width="0.9"/>
<path d="M259,193.45 L262.7,38 Q263,35.5 265.5,35.5" fill="none" stroke="#1010da" stroke-opacity="0.26" stroke-width="0.9"/>
<path d="M259.5,196.02 L263.2,38 Q263.5,35.5 266,35.5 M267,196.52 L270.7,38 Q271,35.5 273.5,35.5" fill="none" stroke="#1010da" stroke-opacity="0.08" stroke-width="0.9"/>
<path d="M260.5,191.54 L264.2,38 Q264.5,35.5 267,35.5" fill="none" stroke="#1010da" stroke-opacity="0.24" stroke-width="0.9"/>
<path d="M261,196.08 L264.7,38 Q265,35.5 267.5,35.5" fill="none" stroke="#1010da" stroke-opacity="0.13" stroke-width="0.9"/>
<path d="M261.5,196.47 L265.2,38 Q265.5,35.5 268,35.5 M273,193.67 L276.7,38 Q277,35.5 279.5,35.5" fill="none" stroke="#1010da" stroke-opacity="0.11" stroke-width="0.9"/>
<path d="M263.5,192.61 L267.2,38 Q267.5,35.5 270,35.5" fill="none" stroke="#1010da" stroke-opacity="0.22" stroke-width="0.9"/>
<path d="M264.5,194.05 L268.2,38 Q268.5,35.5 271,35.5" fill="none" stroke="#1010da" stroke-opacity="0.21" stroke-width="0.9"/>
<path d="M265.5,194.05 L269.2,38 Q269.5,35.5 272,35.5 M269.5,197.05 L273.2,38 Q273.5,35.5 276,35.5 M271,197.58 L274.7,38 Q275,35.5 277.5,35.5 M275,197.9 L278.7,38 Q279,35.5 281.5,35.5" fill="none" stroke="#1010da" stroke-opacity="0.07" stroke-width="0.9"/>
<path d="M274.5,196.59 L278.2,38 Q278.5,35.5 281,35.5 M277.5,196.71 L281.2,38 Q281.5,35.5 284,35.5" fill="none" stroke="#1010da" stroke-opacity="0.04" stroke-width="0.9"/>
<path d="M275.5,194.63 L279.2,38 Q279.5,35.5 282,35.5 M278.5,191.85 L282.2,38 Q282.5,35.5 285,35.5" fill="none" stroke="#1010da" stroke-opacity="0.02" stroke-width="0.9"/>
<path d="M279,193.03 L282.7,38 Q283,35.5 285.5,35.5 M279.5,195.17 L283.2,38 Q283.5,35.5 286,35.5 M280,197.48 L283.7,38 Q284,35.5 286.5,35.5" fill="none" stroke="#1010da" stroke-opacity="0.01" stroke-width="0.9"/>
<line x1="139.5" y1="171.7" x2="184.2" y2="171.7" stroke="#fff" stroke-opacity="0.35" stroke-width="1"/>
<line x1="194.5" y1="171.7" x2="255" y2="171.7" stroke="#fff" stroke-opacity="0.35" stroke-width="1"/>
<line x1="106" y1="35.5" x2="509.5" y2="35.5" stroke="#d04050" stroke-width="1.2"/>
<path d="M92.2,78.5 A13.5,4 0 0 1 100.5,74.81 M112,74.96 A13.5,4 0 0 1 119.2,78.5" fill="none" stroke="#1e1e1e" stroke-width="1.3"/>
<path d="M131.1,112.6 A34.6,5.6 0 0 1 145.8,108.02 M189.9,108.6 A34.6,5.6 0 0 1 200.3,112.6" fill="none" stroke="#1e1e1e" stroke-width="1.3"/>
<path d="M188.1,146.6 A47.3,6.9 0 0 1 207.7,141.01 M267.7,141.56 A47.3,6.9 0 0 1 282.7,146.6" fill="none" stroke="#1e1e1e" stroke-width="1.3"/>
<path d="M92.2,78.5 A13.5,4 0 0 0 119.2,78.5" fill="none" stroke="#1e1e1e" stroke-width="1.3"/>
<line x1="119.2" y1="79.1" x2="352" y2="86.64" stroke="#1e1e1e" stroke-width="1.2"/>
<path d="M356.8,86.8 L351.94,88.54 L352.06,84.75 Z" fill="#1e1e1e"/>
<path d="M131.1,112.6 A34.6,5.6 0 0 0 200.3,112.6" fill="none" stroke="#1e1e1e" stroke-width="1.3"/>
<line x1="200.3" y1="113.2" x2="352" y2="118.43" stroke="#1e1e1e" stroke-width="1.2"/>
<path d="M356.8,118.6 L351.94,120.33 L352.07,116.54 Z" fill="#1e1e1e"/>
<path d="M188.1,146.6 A47.3,6.9 0 0 0 282.7,146.6" fill="none" stroke="#1e1e1e" stroke-width="1.3"/>
<line x1="282.7" y1="147.2" x2="352.01" y2="151.22" stroke="#1e1e1e" stroke-width="1.2"/>
<path d="M356.8,151.5 L351.9,153.12 L352.12,149.33 Z" fill="#1e1e1e"/>
<text transform="translate(416.4,75) scale(0.86,1)" text-anchor="middle" font-size="10.8" fill="#2a2a2a" stroke="#2a2a2a" stroke-width="0.26">“11”</text>
<text transform="translate(416.4,86.8) scale(0.86,1)" text-anchor="middle" font-size="10.8" fill="#2a2a2a" stroke="#2a2a2a" stroke-width="0.26">Mean：0.628ns</text>
<text transform="translate(416.4,98.8) scale(0.86,1)" text-anchor="middle" font-size="10.8" fill="#2a2a2a" stroke="#2a2a2a" stroke-width="0.26">Standard Deviation：17ps</text>
<text transform="translate(416.4,109.9) scale(0.86,1)" text-anchor="middle" font-size="10.8" fill="#2a2a2a" stroke="#2a2a2a" stroke-width="0.26">“01&amp;10”</text>
<text transform="translate(416.4,122.7) scale(0.86,1)" text-anchor="middle" font-size="10.8" fill="#2a2a2a" stroke="#2a2a2a" stroke-width="0.26">Mean：1.27ns</text>
<text transform="translate(416.4,134.9) scale(0.86,1)" text-anchor="middle" font-size="10.8" fill="#2a2a2a" stroke="#2a2a2a" stroke-width="0.26">Standard Deviation：108ps</text>
<text transform="translate(416.4,144.9) scale(0.86,1)" text-anchor="middle" font-size="10.8" fill="#2a2a2a" stroke="#2a2a2a" stroke-width="0.26">“00”</text>
<text transform="translate(416.4,158) scale(0.86,1)" text-anchor="middle" font-size="10.8" fill="#2a2a2a" stroke="#2a2a2a" stroke-width="0.26">Mean：1.9ns</text>
<text transform="translate(416.4,169.6) scale(0.86,1)" text-anchor="middle" font-size="10.8" fill="#2a2a2a" stroke="#2a2a2a" stroke-width="0.26">Standard Deviation：149ps</text>
<rect x="42.3" y="26.2" width="469.2" height="190.1" fill="none" stroke="#111" stroke-width="1.8"/>
<line x1="42.3" y1="216.3" x2="42.3" y2="222.3" stroke="#111" stroke-width="1.8"/>
<text x="42.3" y="232.6" text-anchor="middle" font-size="12.2" textLength="5.6" lengthAdjust="spacingAndGlyphs" fill="#2a2a2a" stroke="#2a2a2a" stroke-width="0.25">0</text>
<line x1="89.2" y1="216.3" x2="89.2" y2="222.3" stroke="#111" stroke-width="1.8"/>
<text x="89.2" y="232.6" text-anchor="middle" font-size="12.2" textLength="13.7" lengthAdjust="spacingAndGlyphs" fill="#2a2a2a" stroke="#2a2a2a" stroke-width="0.25">0.5</text>
<line x1="136.1" y1="216.3" x2="136.1" y2="222.3" stroke="#111" stroke-width="1.8"/>
<text x="136.1" y="232.6" text-anchor="middle" font-size="12.2" textLength="13.7" lengthAdjust="spacingAndGlyphs" fill="#2a2a2a" stroke="#2a2a2a" stroke-width="0.25">1.0</text>
<line x1="183" y1="216.3" x2="183" y2="222.3" stroke="#111" stroke-width="1.8"/>
<text x="183" y="232.6" text-anchor="middle" font-size="12.2" textLength="13.7" lengthAdjust="spacingAndGlyphs" fill="#2a2a2a" stroke="#2a2a2a" stroke-width="0.25">1.5</text>
<line x1="229.9" y1="216.3" x2="229.9" y2="222.3" stroke="#111" stroke-width="1.8"/>
<text x="229.9" y="232.6" text-anchor="middle" font-size="12.2" textLength="13.7" lengthAdjust="spacingAndGlyphs" fill="#2a2a2a" stroke="#2a2a2a" stroke-width="0.25">2.0</text>
<line x1="276.8" y1="216.3" x2="276.8" y2="222.3" stroke="#111" stroke-width="1.8"/>
<text x="276.8" y="232.6" text-anchor="middle" font-size="12.2" textLength="13.7" lengthAdjust="spacingAndGlyphs" fill="#2a2a2a" stroke="#2a2a2a" stroke-width="0.25">2.5</text>
<line x1="323.7" y1="216.3" x2="323.7" y2="222.3" stroke="#111" stroke-width="1.8"/>
<text x="323.7" y="232.6" text-anchor="middle" font-size="12.2" textLength="13.7" lengthAdjust="spacingAndGlyphs" fill="#2a2a2a" stroke="#2a2a2a" stroke-width="0.25">3.0</text>
<line x1="370.6" y1="216.3" x2="370.6" y2="222.3" stroke="#111" stroke-width="1.8"/>
<text x="370.6" y="232.6" text-anchor="middle" font-size="12.2" textLength="13.7" lengthAdjust="spacingAndGlyphs" fill="#2a2a2a" stroke="#2a2a2a" stroke-width="0.25">3.5</text>
<line x1="417.5" y1="216.3" x2="417.5" y2="222.3" stroke="#111" stroke-width="1.8"/>
<text x="417.5" y="232.6" text-anchor="middle" font-size="12.2" textLength="13.7" lengthAdjust="spacingAndGlyphs" fill="#2a2a2a" stroke="#2a2a2a" stroke-width="0.25">4.0</text>
<line x1="464.4" y1="216.3" x2="464.4" y2="222.3" stroke="#111" stroke-width="1.8"/>
<text x="464.4" y="232.6" text-anchor="middle" font-size="12.2" textLength="13.7" lengthAdjust="spacingAndGlyphs" fill="#2a2a2a" stroke="#2a2a2a" stroke-width="0.25">4.5</text>
<line x1="511.3" y1="216.3" x2="511.3" y2="222.3" stroke="#111" stroke-width="1.8"/>
<text x="511.3" y="233.9" text-anchor="middle" font-size="12.2" textLength="13.7" lengthAdjust="spacingAndGlyphs" fill="#2a2a2a" stroke="#2a2a2a" stroke-width="0.25">5.0</text>
<line x1="35.5" y1="172.6" x2="42.3" y2="172.6" stroke="#111" stroke-width="1.8"/>
<text x="30" y="175.8" text-anchor="end" font-size="12.2" textLength="5.6" lengthAdjust="spacingAndGlyphs" fill="#2a2a2a" stroke="#2a2a2a" stroke-width="0.25">0</text>
<line x1="35.5" y1="129" x2="42.3" y2="129" stroke="#111" stroke-width="1.8"/>
<text x="33.6" y="132.6" text-anchor="end" font-size="12.2" textLength="16.7" lengthAdjust="spacingAndGlyphs" fill="#2a2a2a" stroke="#2a2a2a" stroke-width="0.25">300</text>
<line x1="35.5" y1="85.4" x2="42.3" y2="85.4" stroke="#111" stroke-width="1.8"/>
<text x="33.6" y="89" text-anchor="end" font-size="12.2" textLength="16.7" lengthAdjust="spacingAndGlyphs" fill="#2a2a2a" stroke="#2a2a2a" stroke-width="0.25">600</text>
<line x1="35.5" y1="41.8" x2="42.3" y2="41.8" stroke="#111" stroke-width="1.8"/>
<text x="33.6" y="45.4" text-anchor="end" font-size="12.2" textLength="16.7" lengthAdjust="spacingAndGlyphs" fill="#2a2a2a" stroke="#2a2a2a" stroke-width="0.25">900</text>
<text y="244.6" font-size="11.6" fill="#2a2a2a"><tspan x="257">time</tspan><tspan x="277.6" font-size="10.5" fill="#555">（</tspan><tspan x="288.8">ns</tspan><tspan x="300.8" font-size="10.5" fill="#555">）</tspan></text>
<text transform="translate(9.7,129.2) rotate(-90)" font-size="11.2" fill="#2a2a2a" stroke="#2a2a2a" stroke-width="0.15"><tspan x="0">V</tspan><tspan x="10.1" dy="-0.6" font-size="8.5" fill="#555" stroke="none">（</tspan><tspan x="17.9" dy="0.6" font-size="10">m</tspan><tspan x="27.6">V</tspan><tspan x="37.6" dy="-0.6" font-size="8.5" fill="#555" stroke="none">）</tspan></text>
<text x="43" y="15" font-size="18.6" fill="#111" stroke="#111" stroke-width="0.3">CSI outputs of AND/OR</text>
<text x="274.2" y="263.8" text-anchor="middle" font-size="18" fill="#111" stroke="#111" stroke-width="0.3">(a)</text>
<line x1="46.99" y1="295.8" x2="46.99" y2="483.9" stroke="#fafafa"/>
<line x1="51.68" y1="295.8" x2="51.68" y2="483.9" stroke="#fafafa"/>
<line x1="56.37" y1="295.8" x2="56.37" y2="483.9" stroke="#fafafa"/>
<line x1="61.06" y1="295.8" x2="61.06" y2="483.9" stroke="#fafafa"/>
<line x1="65.75" y1="295.8" x2="65.75" y2="483.9" stroke="#fafafa"/>
<line x1="70.44" y1="295.8" x2="70.44" y2="483.9" stroke="#fafafa"/>
<line x1="75.13" y1="295.8" x2="75.13" y2="483.9" stroke="#fafafa"/>
<line x1="79.82" y1="295.8" x2="79.82" y2="483.9" stroke="#fafafa"/>
<line x1="84.51" y1="295.8" x2="84.51" y2="483.9" stroke="#fafafa"/>
<line x1="89.2" y1="295.8" x2="89.2" y2="483.9" stroke="#f4f4f4"/>
<line x1="93.89" y1="295.8" x2="93.89" y2="483.9" stroke="#fafafa"/>
<line x1="98.58" y1="295.8" x2="98.58" y2="483.9" stroke="#fafafa"/>
<line x1="103.27" y1="295.8" x2="103.27" y2="483.9" stroke="#fafafa"/>
<line x1="107.96" y1="295.8" x2="107.96" y2="483.9" stroke="#fafafa"/>
<line x1="112.65" y1="295.8" x2="112.65" y2="483.9" stroke="#fafafa"/>
<line x1="117.34" y1="295.8" x2="117.34" y2="483.9" stroke="#fafafa"/>
<line x1="122.03" y1="295.8" x2="122.03" y2="483.9" stroke="#fafafa"/>
<line x1="126.72" y1="295.8" x2="126.72" y2="483.9" stroke="#fafafa"/>
<line x1="131.41" y1="295.8" x2="131.41" y2="483.9" stroke="#fafafa"/>
<line x1="136.1" y1="295.8" x2="136.1" y2="483.9" stroke="#f4f4f4"/>
<line x1="140.79" y1="295.8" x2="140.79" y2="483.9" stroke="#fafafa"/>
<line x1="145.48" y1="295.8" x2="145.48" y2="483.9" stroke="#fafafa"/>
<line x1="150.17" y1="295.8" x2="150.17" y2="483.9" stroke="#fafafa"/>
<line x1="154.86" y1="295.8" x2="154.86" y2="483.9" stroke="#fafafa"/>
<line x1="159.55" y1="295.8" x2="159.55" y2="483.9" stroke="#fafafa"/>
<line x1="164.24" y1="295.8" x2="164.24" y2="483.9" stroke="#fafafa"/>
<line x1="168.93" y1="295.8" x2="168.93" y2="483.9" stroke="#fafafa"/>
<line x1="173.62" y1="295.8" x2="173.62" y2="483.9" stroke="#fafafa"/>
<line x1="178.31" y1="295.8" x2="178.31" y2="483.9" stroke="#fafafa"/>
<line x1="183" y1="295.8" x2="183" y2="483.9" stroke="#f4f4f4"/>
<line x1="187.69" y1="295.8" x2="187.69" y2="483.9" stroke="#fafafa"/>
<line x1="192.38" y1="295.8" x2="192.38" y2="483.9" stroke="#fafafa"/>
<line x1="197.07" y1="295.8" x2="197.07" y2="483.9" stroke="#fafafa"/>
<line x1="201.76" y1="295.8" x2="201.76" y2="483.9" stroke="#fafafa"/>
<line x1="206.45" y1="295.8" x2="206.45" y2="483.9" stroke="#fafafa"/>
<line x1="211.14" y1="295.8" x2="211.14" y2="483.9" stroke="#fafafa"/>
<line x1="215.83" y1="295.8" x2="215.83" y2="483.9" stroke="#fafafa"/>
<line x1="220.52" y1="295.8" x2="220.52" y2="483.9" stroke="#fafafa"/>
<line x1="225.21" y1="295.8" x2="225.21" y2="483.9" stroke="#fafafa"/>
<line x1="229.9" y1="295.8" x2="229.9" y2="483.9" stroke="#f4f4f4"/>
<line x1="234.59" y1="295.8" x2="234.59" y2="483.9" stroke="#fafafa"/>
<line x1="239.28" y1="295.8" x2="239.28" y2="483.9" stroke="#fafafa"/>
<line x1="243.97" y1="295.8" x2="243.97" y2="483.9" stroke="#fafafa"/>
<line x1="248.66" y1="295.8" x2="248.66" y2="483.9" stroke="#fafafa"/>
<line x1="253.35" y1="295.8" x2="253.35" y2="483.9" stroke="#fafafa"/>
<line x1="258.04" y1="295.8" x2="258.04" y2="483.9" stroke="#fafafa"/>
<line x1="262.73" y1="295.8" x2="262.73" y2="483.9" stroke="#fafafa"/>
<line x1="267.42" y1="295.8" x2="267.42" y2="483.9" stroke="#fafafa"/>
<line x1="272.11" y1="295.8" x2="272.11" y2="483.9" stroke="#fafafa"/>
<line x1="276.8" y1="295.8" x2="276.8" y2="483.9" stroke="#f4f4f4"/>
<line x1="281.49" y1="295.8" x2="281.49" y2="483.9" stroke="#fafafa"/>
<line x1="286.18" y1="295.8" x2="286.18" y2="483.9" stroke="#fafafa"/>
<line x1="290.87" y1="295.8" x2="290.87" y2="483.9" stroke="#fafafa"/>
<line x1="295.56" y1="295.8" x2="295.56" y2="483.9" stroke="#fafafa"/>
<line x1="300.25" y1="295.8" x2="300.25" y2="483.9" stroke="#fafafa"/>
<line x1="304.94" y1="295.8" x2="304.94" y2="483.9" stroke="#fafafa"/>
<line x1="309.63" y1="295.8" x2="309.63" y2="483.9" stroke="#fafafa"/>
<line x1="314.32" y1="295.8" x2="314.32" y2="483.9" stroke="#fafafa"/>
<line x1="319.01" y1="295.8" x2="319.01" y2="483.9" stroke="#fafafa"/>
<line x1="323.7" y1="295.8" x2="323.7" y2="483.9" stroke="#f4f4f4"/>
<line x1="328.39" y1="295.8" x2="328.39" y2="483.9" stroke="#fafafa"/>
<line x1="333.08" y1="295.8" x2="333.08" y2="483.9" stroke="#fafafa"/>
<line x1="337.77" y1="295.8" x2="337.77" y2="483.9" stroke="#fafafa"/>
<line x1="342.46" y1="295.8" x2="342.46" y2="483.9" stroke="#fafafa"/>
<line x1="347.15" y1="295.8" x2="347.15" y2="483.9" stroke="#fafafa"/>
<line x1="351.84" y1="295.8" x2="351.84" y2="483.9" stroke="#fafafa"/>
<line x1="356.53" y1="295.8" x2="356.53" y2="483.9" stroke="#fafafa"/>
<line x1="361.22" y1="295.8" x2="361.22" y2="483.9" stroke="#fafafa"/>
<line x1="365.91" y1="295.8" x2="365.91" y2="483.9" stroke="#fafafa"/>
<line x1="370.6" y1="295.8" x2="370.6" y2="483.9" stroke="#f4f4f4"/>
<line x1="375.29" y1="295.8" x2="375.29" y2="483.9" stroke="#fafafa"/>
<line x1="379.98" y1="295.8" x2="379.98" y2="483.9" stroke="#fafafa"/>
<line x1="384.67" y1="295.8" x2="384.67" y2="483.9" stroke="#fafafa"/>
<line x1="389.36" y1="295.8" x2="389.36" y2="483.9" stroke="#fafafa"/>
<line x1="394.05" y1="295.8" x2="394.05" y2="483.9" stroke="#fafafa"/>
<line x1="398.74" y1="295.8" x2="398.74" y2="483.9" stroke="#fafafa"/>
<line x1="403.43" y1="295.8" x2="403.43" y2="483.9" stroke="#fafafa"/>
<line x1="408.12" y1="295.8" x2="408.12" y2="483.9" stroke="#fafafa"/>
<line x1="412.81" y1="295.8" x2="412.81" y2="483.9" stroke="#fafafa"/>
<line x1="417.5" y1="295.8" x2="417.5" y2="483.9" stroke="#f4f4f4"/>
<line x1="422.19" y1="295.8" x2="422.19" y2="483.9" stroke="#fafafa"/>
<line x1="426.88" y1="295.8" x2="426.88" y2="483.9" stroke="#fafafa"/>
<line x1="431.57" y1="295.8" x2="431.57" y2="483.9" stroke="#fafafa"/>
<line x1="436.26" y1="295.8" x2="436.26" y2="483.9" stroke="#fafafa"/>
<line x1="440.95" y1="295.8" x2="440.95" y2="483.9" stroke="#fafafa"/>
<line x1="445.64" y1="295.8" x2="445.64" y2="483.9" stroke="#fafafa"/>
<line x1="450.33" y1="295.8" x2="450.33" y2="483.9" stroke="#fafafa"/>
<line x1="455.02" y1="295.8" x2="455.02" y2="483.9" stroke="#fafafa"/>
<line x1="459.71" y1="295.8" x2="459.71" y2="483.9" stroke="#fafafa"/>
<line x1="464.4" y1="295.8" x2="464.4" y2="483.9" stroke="#f4f4f4"/>
<line x1="469.09" y1="295.8" x2="469.09" y2="483.9" stroke="#fafafa"/>
<line x1="473.78" y1="295.8" x2="473.78" y2="483.9" stroke="#fafafa"/>
<line x1="478.47" y1="295.8" x2="478.47" y2="483.9" stroke="#fafafa"/>
<line x1="483.16" y1="295.8" x2="483.16" y2="483.9" stroke="#fafafa"/>
<line x1="487.85" y1="295.8" x2="487.85" y2="483.9" stroke="#fafafa"/>
<line x1="492.54" y1="295.8" x2="492.54" y2="483.9" stroke="#fafafa"/>
<line x1="497.23" y1="295.8" x2="497.23" y2="483.9" stroke="#fafafa"/>
<line x1="501.92" y1="295.8" x2="501.92" y2="483.9" stroke="#fafafa"/>
<line x1="506.61" y1="295.8" x2="506.61" y2="483.9" stroke="#fafafa"/>
<line x1="43.3" y1="477.53" x2="510.5" y2="477.53" stroke="#fafafa"/>
<line x1="43.3" y1="470.27" x2="510.5" y2="470.27" stroke="#fafafa"/>
<line x1="43.3" y1="463" x2="510.5" y2="463" stroke="#fafafa"/>
<line x1="43.3" y1="455.73" x2="510.5" y2="455.73" stroke="#fafafa"/>
<line x1="43.3" y1="448.47" x2="510.5" y2="448.47" stroke="#fafafa"/>
<line x1="43.3" y1="441.2" x2="510.5" y2="441.2" stroke="#f4f4f4"/>
<line x1="43.3" y1="433.93" x2="510.5" y2="433.93" stroke="#fafafa"/>
<line x1="43.3" y1="426.67" x2="510.5" y2="426.67" stroke="#fafafa"/>
<line x1="43.3" y1="419.4" x2="510.5" y2="419.4" stroke="#fafafa"/>
<line x1="43.3" y1="412.13" x2="510.5" y2="412.13" stroke="#fafafa"/>
<line x1="43.3" y1="404.87" x2="510.5" y2="404.87" stroke="#fafafa"/>
<line x1="43.3" y1="397.6" x2="510.5" y2="397.6" stroke="#f4f4f4"/>
<line x1="43.3" y1="390.33" x2="510.5" y2="390.33" stroke="#fafafa"/>
<line x1="43.3" y1="383.07" x2="510.5" y2="383.07" stroke="#fafafa"/>
<line x1="43.3" y1="375.8" x2="510.5" y2="375.8" stroke="#fafafa"/>
<line x1="43.3" y1="368.53" x2="510.5" y2="368.53" stroke="#fafafa"/>
<line x1="43.3" y1="361.27" x2="510.5" y2="361.27" stroke="#fafafa"/>
<line x1="43.3" y1="354" x2="510.5" y2="354" stroke="#f4f4f4"/>
<line x1="43.3" y1="346.73" x2="510.5" y2="346.73" stroke="#fafafa"/>
<line x1="43.3" y1="339.47" x2="510.5" y2="339.47" stroke="#fafafa"/>
<line x1="43.3" y1="332.2" x2="510.5" y2="332.2" stroke="#fafafa"/>
<line x1="43.3" y1="324.93" x2="510.5" y2="324.93" stroke="#fafafa"/>
<line x1="43.3" y1="317.67" x2="510.5" y2="317.67" stroke="#fafafa"/>
<line x1="43.3" y1="310.4" x2="510.5" y2="310.4" stroke="#f4f4f4"/>
<line x1="43.3" y1="303.13" x2="510.5" y2="303.13" stroke="#fafafa"/>
<line x1="43.3" y1="295.87" x2="510.5" y2="295.87" stroke="#fafafa"/>
<line x1="44.5" y1="441.2" x2="125" y2="441.2" stroke="#bccabc" stroke-width="1"/>
<line x1="125" y1="441.2" x2="370" y2="441.2" stroke="#cfdccf" stroke-width="1"/>
<path d="M142.5,460 L145.5,306.9" stroke="#dd8888" stroke-opacity="0.25" stroke-width="0.9" fill="none"/>
<path d="M144.5,460 L147.5,306.9" stroke="#cc9999" stroke-opacity="0.2" stroke-width="0.9" fill="none"/>
<path d="M148.5,460 L151.5,306.9" stroke="#ccaaaa" stroke-opacity="0.15" stroke-width="0.9" fill="none"/>
<path d="M153.5,460 L156.5,306.9" stroke="#bbbbaa" stroke-opacity="0.12" stroke-width="0.9" fill="none"/>
<path d="M158.5,460 L161.5,306.9" stroke="#bbbb99" stroke-opacity="0.12" stroke-width="0.9" fill="none"/>
<path d="M162.5,460 L165.5,306.9" stroke="#bbbb88" stroke-opacity="0.15" stroke-width="0.9" fill="none"/>
<path d="M165.5,460 L168.5,306.9" stroke="#cccc88" stroke-opacity="0.2" stroke-width="0.9" fill="none"/>
<path d="M360.5,460 L363.5,306.9" stroke="#99cc99" stroke-opacity="0.15" stroke-width="0.9" fill="none"/>
<path d="M364.5,460 L367.5,306.9" stroke="#aaccaa" stroke-opacity="0.12" stroke-width="0.9" fill="none"/>
<path d="M368.5,460 L371.5,306.9" stroke="#bbccbb" stroke-opacity="0.1" stroke-width="0.9" fill="none"/>
<path d="M124.2,441.1 C125.5,448 126.8,458 127.7,464.6 Q128.6,470.4 132,470.3 Q136.3,470.4 137.1,465 L138.3,441.1 Z" fill="#e20000"/>
<path d="M128.6,465 L133.2,308.4 L141.9,306.9 L137.3,465 Z" fill="#e20000"/>
<path d="M127,461.09 L131.12,309.9 Q131.6,305.9 135.6,305.9 M138,465.94 L142.12,309.9 Q142.6,305.9 146.6,305.9" fill="none" stroke="#e20000" stroke-opacity="0.30" stroke-width="0.9"/>
<path d="M127.5,465.24 L131.62,309.9 Q132.1,305.9 136.1,305.9" fill="none" stroke="#e20000" stroke-opacity="0.19" stroke-width="0.9"/>
<path d="M128,465.01 L132.12,309.9 Q132.6,305.9 136.6,305.9" fill="none" stroke="#e20000" stroke-opacity="0.59" stroke-width="0.9"/>
<path d="M128.5,464.88 L132.62,309.9 Q133.1,305.9 137.1,305.9 M129,466.03 L133.12,309.9 Q133.6,305.9 137.6,305.9 M129.5,466.81 L133.62,309.9 Q134.1,305.9 138.1,305.9 M130,463.55 L134.12,309.9 Q134.6,305.9 138.6,305.9 M130.5,464.32 L134.62,309.9 Q135.1,305.9 139.1,305.9 M131,464.68 L135.12,309.9 Q135.6,305.9 139.6,305.9 M131.5,463.9 L135.62,309.9 Q136.1,305.9 140.1,305.9 M132,464.1 L136.12,309.9 Q136.6,305.9 140.6,305.9 M132.5,466.98 L136.62,309.9 Q137.1,305.9 141.1,305.9 M133,464.47 L137.12,309.9 Q137.6,305.9 141.6,305.9 M133.5,467.47 L137.62,309.9 Q138.1,305.9 142.1,305.9 M134,464.04 L138.12,309.9 Q138.6,305.9 142.6,305.9 M134.5,465.94 L138.62,309.9 Q139.1,305.9 143.1,305.9 M135.5,466.78 L139.62,309.9 Q140.1,305.9 144.1,305.9 M136.5,463.85 L140.62,309.9 Q141.1,305.9 145.1,305.9" fill="none" stroke="#e20000" stroke-opacity="1.00" stroke-width="0.9"/>
<path d="M135,465.14 L139.12,309.9 Q139.6,305.9 143.6,305.9" fill="none" stroke="#b70000" stroke-opacity="1.00" stroke-width="0.9"/>
<path d="M136,464.32 L140.12,309.9 Q140.6,305.9 144.6,305.9" fill="none" stroke="#b60000" stroke-opacity="1.00" stroke-width="0.9"/>
<path d="M137,467.19 L141.12,309.9 Q141.6,305.9 145.6,305.9" fill="none" stroke="#c20000" stroke-opacity="1.00" stroke-width="0.9"/>
<path d="M137.5,466.9 L141.62,309.9 Q142.1,305.9 146.1,305.9" fill="none" stroke="#e20000" stroke-opacity="0.32" stroke-width="0.9"/>
<path d="M138.5,464.67 L142.62,309.9 Q143.1,305.9 147.1,305.9" fill="none" stroke="#e20000" stroke-opacity="0.40" stroke-width="0.9"/>
<path d="M139,463.08 L143.12,309.9 Q143.6,305.9 147.6,305.9" fill="none" stroke="#e20000" stroke-opacity="0.25" stroke-width="0.9"/>
<path d="M139.5,462.28 L143.62,309.9 Q144.1,305.9 148.1,305.9" fill="none" stroke="#e20000" stroke-opacity="0.11" stroke-width="0.9"/>
<path d="M140,461.92 L144.12,309.9 Q144.6,305.9 148.6,305.9" fill="none" stroke="#e20000" stroke-opacity="0.13" stroke-width="0.9"/>
<path d="M140.5,465.25 L144.62,309.9 Q145.1,305.9 149.1,305.9 M141.5,460.94 L145.62,309.9 Q146.1,305.9 150.1,305.9" fill="none" stroke="#e20000" stroke-opacity="0.03" stroke-width="0.9"/>
<path d="M141,461.92 L145.12,309.9 Q145.6,305.9 149.6,305.9 M142.5,461.65 L146.62,309.9 Q147.1,305.9 151.1,305.9 M143,462.48 L147.12,309.9 Q147.6,305.9 151.6,305.9" fill="none" stroke="#e20000" stroke-opacity="0.02" stroke-width="0.9"/>
<path d="M142,464.35 L146.12,309.9 Q146.6,305.9 150.6,305.9" fill="none" stroke="#e20000" stroke-opacity="0.01" stroke-width="0.9"/>
<path d="M170,441.2 L215.5,441.2 L215,463.5 L170.5,463.5 Z" fill="#acb010"/>
<path d="M173.8,464.5 L178.2,308.4 L215.7,306.9 L211.3,464.5 Z" fill="#acb010"/>
<path d="M164.8,462.19 L168.9,308.4 Q169.2,305.9 171.7,305.9 M220.3,464.41 L224.4,308.4 Q224.7,305.9 227.2,305.9" fill="none" stroke="#acb010" stroke-opacity="0.03" stroke-width="0.9"/>
<path d="M165.3,462.92 L169.4,308.4 Q169.7,305.9 172.2,305.9 M166.3,461.43 L170.4,308.4 Q170.7,305.9 173.2,305.9" fill="none" stroke="#acb010" stroke-opacity="0.06" stroke-width="0.9"/>
<path d="M165.8,462.55 L169.9,308.4 Q170.2,305.9 172.7,305.9" fill="none" stroke="#acb010" stroke-opacity="0.10" stroke-width="0.9"/>
<path d="M166.8,462.97 L170.9,308.4 Q171.2,305.9 173.7,305.9" fill="none" stroke="#acb010" stroke-opacity="0.05" stroke-width="0.9"/>
<path d="M167.3,466.18 L171.4,308.4 Q171.7,305.9 174.2,305.9 M216.8,461.86 L220.9,308.4 Q221.2,305.9 223.7,305.9" fill="none" stroke="#acb010" stroke-opacity="0.27" stroke-width="0.9"/>
<path d="M167.8,460.1 L171.9,308.4 Q172.2,305.9 174.7,305.9" fill="none" stroke="#acb010" stroke-opacity="0.21" stroke-width="0.9"/>
<path d="M168.3,466.37 L172.4,308.4 Q172.7,305.9 175.2,305.9" fill="none" stroke="#acb010" stroke-opacity="0.24" stroke-width="0.9"/>
<path d="M168.8,462.6 L172.9,308.4 Q173.2,305.9 175.7,305.9" fill="none" stroke="#acb010" stroke-opacity="0.13" stroke-width="0.9"/>
<path d="M169.3,461.98 L173.4,308.4 Q173.7,305.9 176.2,305.9 M218.3,466.16 L222.4,308.4 Q222.7,305.9 225.2,305.9" fill="none" stroke="#acb010" stroke-opacity="0.26" stroke-width="0.9"/>
<path d="M169.8,460.76 L173.9,308.4 Q174.2,305.9 176.7,305.9 M170.3,466.77 L174.4,308.4 Q174.7,305.9 177.2,305.9 M215.3,461.58 L219.4,308.4 Q219.7,305.9 222.2,305.9" fill="none" stroke="#acb010" stroke-opacity="0.28" stroke-width="0.9"/>
<path d="M170.8,466.6 L174.9,308.4 Q175.2,305.9 177.7,305.9 M213.8,466.23 L217.9,308.4 Q218.2,305.9 220.7,305.9 M217.3,465.52 L221.4,308.4 Q221.7,305.9 224.2,305.9" fill="none" stroke="#acb010" stroke-opacity="0.20" stroke-width="0.9"/>
<path d="M171.3,460.37 L175.4,308.4 Q175.7,305.9 178.2,305.9 M171.8,464.25 L175.9,308.4 Q176.2,305.9 178.7,305.9" fill="none" stroke="#acb010" stroke-opacity="0.47" stroke-width="0.9"/>
<path d="M172.3,465.29 L176.4,308.4 Q176.7,305.9 179.2,305.9 M172.8,463.22 L176.9,308.4 Q177.2,305.9 179.7,305.9" fill="none" stroke="#acb010" stroke-opacity="0.70" stroke-width="0.9"/>
<path d="M173.3,463.5 L177.4,308.4 Q177.7,305.9 180.2,305.9" fill="none" stroke="#acb010" stroke-opacity="0.72" stroke-width="0.9"/>
<path d="M173.8,466.31 L177.9,308.4 Q178.2,305.9 180.7,305.9" fill="none" stroke="#acb010" stroke-opacity="0.52" stroke-width="0.9"/>
<path d="M174.3,463.32 L178.4,308.4 Q178.7,305.9 181.2,305.9 M174.8,464.3 L178.9,308.4 Q179.2,305.9 181.7,305.9 M175.3,464.23 L179.4,308.4 Q179.7,305.9 182.2,305.9 M175.8,463.61 L179.9,308.4 Q180.2,305.9 182.7,305.9 M176.3,466.54 L180.4,308.4 Q180.7,305.9 183.2,305.9 M177.8,464.98 L181.9,308.4 Q182.2,305.9 184.7,305.9 M178.3,463.88 L182.4,308.4 Q182.7,305.9 185.2,305.9 M178.8,465.12 L182.9,308.4 Q183.2,305.9 185.7,305.9 M179.3,465.46 L183.4,308.4 Q183.7,305.9 186.2,305.9 M179.8,464.47 L183.9,308.4 Q184.2,305.9 186.7,305.9 M180.8,465.94 L184.9,308.4 Q185.2,305.9 187.7,305.9 M181.3,464.56 L185.4,308.4 Q185.7,305.9 188.2,305.9 M181.8,464.63 L185.9,308.4 Q186.2,305.9 188.7,305.9 M182.3,463.08 L186.4,308.4 Q186.7,305.9 189.2,305.9 M182.8,462.91 L186.9,308.4 Q187.2,305.9 189.7,305.9 M183.3,464.8 L187.4,308.4 Q187.7,305.9 190.2,305.9 M184.3,466 L188.4,308.4 Q188.7,305.9 191.2,305.9 M184.8,462.74 L188.9,308.4 Q189.2,305.9 191.7,305.9 M185.3,464.2 L189.4,308.4 Q189.7,305.9 192.2,305.9 M185.8,463.11 L189.9,308.4 Q190.2,305.9 192.7,305.9 M186.3,466.98 L190.4,308.4 Q190.7,305.9 193.2,305.9 M186.8,466.17 L190.9,308.4 Q191.2,305.9 193.7,305.9 M187.3,466.92 L191.4,308.4 Q191.7,305.9 194.2,305.9 M187.8,466.8 L191.9,308.4 Q192.2,305.9 194.7,305.9 M188.3,463.24 L192.4,308.4 Q192.7,305.9 195.2,305.9 M188.8,466.69 L192.9,308.4 Q193.2,305.9 195.7,305.9 M189.3,464.08 L193.4,308.4 Q193.7,305.9 196.2,305.9 M189.8,463.21 L193.9,308.4 Q194.2,305.9 196.7,305.9 M190.3,463.74 L194.4,308.4 Q194.7,305.9 197.2,305.9 M190.8,463.15 L194.9,308.4 Q195.2,305.9 197.7,305.9 M191.3,466.64 L195.4,308.4 Q195.7,305.9 198.2,305.9 M191.8,463.68 L195.9,308.4 Q196.2,305.9 198.7,305.9 M192.3,463.94 L196.4,308.4 Q196.7,305.9 199.2,305.9 M193.3,465.56 L197.4,308.4 Q197.7,305.9 200.2,305.9 M193.8,463.26 L197.9,308.4 Q198.2,305.9 200.7,305.9 M194.3,463.02 L198.4,308.4 Q198.7,305.9 201.2,305.9 M194.8,465.36 L198.9,308.4 Q199.2,305.9 201.7,305.9 M195.3,466.43 L199.4,308.4 Q199.7,305.9 202.2,305.9 M195.8,465.11 L199.9,308.4 Q200.2,305.9 202.7,305.9 M196.3,462.97 L200.4,308.4 Q200.7,305.9 203.2,305.9 M197.3,463.69 L201.4,308.4 Q201.7,305.9 204.2,305.9 M198.3,464.49 L202.4,308.4 Q202.7,305.9 205.2,305.9 M198.8,465.85 L202.9,308.4 Q203.2,305.9 205.7,305.9 M199.8,466.93 L203.9,308.4 Q204.2,305.9 206.7,305.9 M200.3,465.49 L204.4,308.4 Q204.7,305.9 207.2,305.9 M200.8,462.51 L204.9,308.4 Q205.2,305.9 207.7,305.9 M201.8,464.81 L205.9,308.4 Q206.2,305.9 208.7,305.9 M202.3,463.09 L206.4,308.4 Q206.7,305.9 209.2,305.9 M202.8,465.44 L206.9,308.4 Q207.2,305.9 209.7,305.9 M203.8,464.11 L207.9,308.4 Q208.2,305.9 210.7,305.9 M204.3,465.13 L208.4,308.4 Q208.7,305.9 211.2,305.9 M204.8,463.42 L208.9,308.4 Q209.2,305.9 211.7,305.9 M205.3,464.64 L209.4,308.4 Q209.7,305.9 212.2,305.9 M205.8,466.71 L209.9,308.4 Q210.2,305.9 212.7,305.9 M206.3,463.17 L210.4,308.4 Q210.7,305.9 213.2,305.9 M206.8,465.37 L210.9,308.4 Q211.2,305.9 213.7,305.9 M207.3,466.02 L211.4,308.4 Q211.7,305.9 214.2,305.9 M207.8,463.69 L211.9,308.4 Q212.2,305.9 214.7,305.9 M208.8,465.41 L212.9,308.4 Q213.2,305.9 215.7,305.9 M209.3,466.72 L213.4,308.4 Q213.7,305.9 216.2,305.9 M209.8,463.62 L213.9,308.4 Q214.2,305.9 216.7,305.9 M210.3,462.7 L214.4,308.4 Q214.7,305.9 217.2,305.9 M210.8,464.33 L214.9,308.4 Q215.2,305.9 217.7,305.9 M211.3,462.76 L215.4,308.4 Q215.7,305.9 218.2,305.9" fill="none" stroke="#acb010" stroke-opacity="1.00" stroke-width="0.9"/>
<path d="M176.8,465.91 L180.9,308.4 Q181.2,305.9 183.7,305.9" fill="none" stroke="#b6b92c" stroke-opacity="1.00" stroke-width="0.9"/>
<path d="M177.3,463.03 L181.4,308.4 Q181.7,305.9 184.2,305.9 M199.3,463.64 L203.4,308.4 Q203.7,305.9 206.2,305.9" fill="none" stroke="#b8bb32" stroke-opacity="1.00" stroke-width="0.9"/>
<path d="M180.3,464.7 L184.4,308.4 Q184.7,305.9 187.2,305.9" fill="none" stroke="#b6ba2d" stroke-opacity="1.00" stroke-width="0.9"/>
<path d="M183.8,462.87 L187.9,308.4 Q188.2,305.9 190.7,305.9 M208.3,465.03 L212.4,308.4 Q212.7,305.9 215.2,305.9" fill="none" stroke="#b6ba2e" stroke-opacity="1.00" stroke-width="0.9"/>
<path d="M192.8,463.23 L196.9,308.4 Q197.2,305.9 199.7,305.9" fill="none" stroke="#b2b623" stroke-opacity="1.00" stroke-width="0.9"/>
<path d="M196.8,464.27 L200.9,308.4 Q201.2,305.9 203.7,305.9" fill="none" stroke="#94980e" stroke-opacity="1.00" stroke-width="0.9"/>
<path d="M197.8,464.12 L201.9,308.4 Q202.2,305.9 204.7,305.9" fill="none" stroke="#94970e" stroke-opacity="1.00" stroke-width="0.9"/>
<path d="M201.3,465.27 L205.4,308.4 Q205.7,305.9 208.2,305.9" fill="none" stroke="#b2b622" stroke-opacity="1.00" stroke-width="0.9"/>
<path d="M203.3,464.1 L207.4,308.4 Q207.7,305.9 210.2,305.9" fill="none" stroke="#b1b51e" stroke-opacity="1.00" stroke-width="0.9"/>
<path d="M211.8,463.86 L215.9,308.4 Q216.2,305.9 218.7,305.9" fill="none" stroke="#acb010" stroke-opacity="0.37" stroke-width="0.9"/>
<path d="M212.3,461.4 L216.4,308.4 Q216.7,305.9 219.2,305.9" fill="none" stroke="#acb010" stroke-opacity="0.41" stroke-width="0.9"/>
<path d="M212.8,464.49 L216.9,308.4 Q217.2,305.9 219.7,305.9" fill="none" stroke="#acb010" stroke-opacity="0.30" stroke-width="0.9"/>
<path d="M213.3,462.17 L217.4,308.4 Q217.7,305.9 220.2,305.9" fill="none" stroke="#acb010" stroke-opacity="0.34" stroke-width="0.9"/>
<path d="M214.3,460.04 L218.4,308.4 Q218.7,305.9 221.2,305.9" fill="none" stroke="#acb010" stroke-opacity="0.31" stroke-width="0.9"/>
<path d="M214.8,463.26 L218.9,308.4 Q219.2,305.9 221.7,305.9" fill="none" stroke="#acb010" stroke-opacity="0.32" stroke-width="0.9"/>
<path d="M215.8,460.27 L219.9,308.4 Q220.2,305.9 222.7,305.9" fill="none" stroke="#acb010" stroke-opacity="0.12" stroke-width="0.9"/>
<path d="M216.3,464.87 L220.4,308.4 Q220.7,305.9 223.2,305.9" fill="none" stroke="#acb010" stroke-opacity="0.17" stroke-width="0.9"/>
<path d="M217.8,464.49 L221.9,308.4 Q222.2,305.9 224.7,305.9" fill="none" stroke="#acb010" stroke-opacity="0.18" stroke-width="0.9"/>
<path d="M218.8,461.65 L222.9,308.4 Q223.2,305.9 225.7,305.9" fill="none" stroke="#acb010" stroke-opacity="0.08" stroke-width="0.9"/>
<path d="M219.3,465.22 L223.4,308.4 Q223.7,305.9 226.2,305.9" fill="none" stroke="#acb010" stroke-opacity="0.07" stroke-width="0.9"/>
<path d="M219.8,462.3 L223.9,308.4 Q224.2,305.9 226.7,305.9 M220.8,466.85 L224.9,308.4 Q225.2,305.9 227.7,305.9" fill="none" stroke="#acb010" stroke-opacity="0.04" stroke-width="0.9"/>
<path d="M222,441.2 L271,441.2 L270.5,462.2 L222.5,462.2 Z" fill="#1010da"/>
<path d="M234.8,463.2 L239.2,308.4 L268.2,306.9 L263.8,463.2 Z" fill="#1010da"/>
<path d="M216.8,463.58 L220.9,308.4 Q221.2,305.9 223.7,305.9 M272.8,460.47 L276.9,308.4 Q277.2,305.9 279.7,305.9 M274.3,461.7 L278.4,308.4 Q278.7,305.9 281.2,305.9" fill="none" stroke="#1010da" stroke-opacity="0.13" stroke-width="0.9"/>
<path d="M217.3,463.77 L221.4,308.4 Q221.7,305.9 224.2,305.9 M228.3,464.89 L232.4,308.4 Q232.7,305.9 235.2,305.9 M270.3,460.28 L274.4,308.4 Q274.7,305.9 277.2,305.9 M274.8,461.24 L278.9,308.4 Q279.2,305.9 281.7,305.9 M279.8,464.57 L283.9,308.4 Q284.2,305.9 286.7,305.9" fill="none" stroke="#1010da" stroke-opacity="0.19" stroke-width="0.9"/>
<path d="M217.8,460.18 L221.9,308.4 Q222.2,305.9 224.7,305.9 M279.3,463.38 L283.4,308.4 Q283.7,305.9 286.2,305.9" fill="none" stroke="#1010da" stroke-opacity="0.15" stroke-width="0.9"/>
<path d="M218.3,465.08 L222.4,308.4 Q222.7,305.9 225.2,305.9 M225.3,463.71 L229.4,308.4 Q229.7,305.9 232.2,305.9 M277.3,459.41 L281.4,308.4 Q281.7,305.9 284.2,305.9" fill="none" stroke="#1010da" stroke-opacity="0.17" stroke-width="0.9"/>
<path d="M218.8,459.45 L222.9,308.4 Q223.2,305.9 225.7,305.9 M220.8,461.24 L224.9,308.4 Q225.2,305.9 227.7,305.9 M276.3,463.13 L280.4,308.4 Q280.7,305.9 283.2,305.9 M277.8,464.13 L281.9,308.4 Q282.2,305.9 284.7,305.9" fill="none" stroke="#1010da" stroke-opacity="0.09" stroke-width="0.9"/>
<path d="M219.3,459.69 L223.4,308.4 Q223.7,305.9 226.2,305.9 M228.8,461.21 L232.9,308.4 Q233.2,305.9 235.7,305.9 M265.8,463.08 L269.9,308.4 Q270.2,305.9 272.7,305.9 M275.3,459.1 L279.4,308.4 Q279.7,305.9 282.2,305.9" fill="none" stroke="#1010da" stroke-opacity="0.23" stroke-width="0.9"/>
<path d="M219.8,463.55 L223.9,308.4 Q224.2,305.9 226.7,305.9" fill="none" stroke="#1010da" stroke-opacity="0.08" stroke-width="0.9"/>
<path d="M220.3,463.86 L224.4,308.4 Q224.7,305.9 227.2,305.9 M225.8,465.45 L229.9,308.4 Q230.2,305.9 232.7,305.9" fill="none" stroke="#1010da" stroke-opacity="0.20" stroke-width="0.9"/>
<path d="M221.3,464.94 L225.4,308.4 Q225.7,305.9 228.2,305.9 M229.3,464.63 L233.4,308.4 Q233.7,305.9 236.2,305.9 M271.3,461.98 L275.4,308.4 Q275.7,305.9 278.2,305.9" fill="none" stroke="#1010da" stroke-opacity="0.25" stroke-width="0.9"/>
<path d="M221.8,465.1 L225.9,308.4 Q226.2,305.9 228.7,305.9" fill="none" stroke="#1010da" stroke-opacity="0.10" stroke-width="0.9"/>
<path d="M222.3,460.14 L226.4,308.4 Q226.7,305.9 229.2,305.9 M264.3,465.63 L268.4,308.4 Q268.7,305.9 271.2,305.9" fill="none" stroke="#1010da" stroke-opacity="0.29" stroke-width="0.9"/>
<path d="M222.8,464.63 L226.9,308.4 Q227.2,305.9 229.7,305.9 M224.3,460.13 L228.4,308.4 Q228.7,305.9 231.2,305.9 M226.8,461.76 L230.9,308.4 Q231.2,305.9 233.7,305.9 M278.3,465.03 L282.4,308.4 Q282.7,305.9 285.2,305.9" fill="none" stroke="#1010da" stroke-opacity="0.12" stroke-width="0.9"/>
<path d="M223.3,464.48 L227.4,308.4 Q227.7,305.9 230.2,305.9 M270.8,463.17 L274.9,308.4 Q275.2,305.9 277.7,305.9" fill="none" stroke="#1010da" stroke-opacity="0.28" stroke-width="0.9"/>
<path d="M223.8,459.4 L227.9,308.4 Q228.2,305.9 230.7,305.9 M226.3,463.03 L230.4,308.4 Q230.7,305.9 233.2,305.9 M272.3,464.65 L276.4,308.4 Q276.7,305.9 279.2,305.9" fill="none" stroke="#1010da" stroke-opacity="0.24" stroke-width="0.9"/>
<path d="M224.8,458.85 L228.9,308.4 Q229.2,305.9 231.7,305.9 M278.8,464.94 L282.9,308.4 Q283.2,305.9 285.7,305.9" fill="none" stroke="#1010da" stroke-opacity="0.18" stroke-width="0.9"/>
<path d="M227.3,463.63 L231.4,308.4 Q231.7,305.9 234.2,305.9 M267.3,464.54 L271.4,308.4 Q271.7,305.9 274.2,305.9" fill="none" stroke="#1010da" stroke-opacity="0.33" stroke-width="0.9"/>
<path d="M227.8,464.74 L231.9,308.4 Q232.2,305.9 234.7,305.9 M269.3,464.69 L273.4,308.4 Q273.7,305.9 276.2,305.9" fill="none" stroke="#1010da" stroke-opacity="0.27" stroke-width="0.9"/>
<path d="M229.8,461.22 L233.9,308.4 Q234.2,305.9 236.7,305.9" fill="none" stroke="#1010da" stroke-opacity="0.58" stroke-width="0.9"/>
<path d="M230.3,463.41 L234.4,308.4 Q234.7,305.9 237.2,305.9" fill="none" stroke="#1010da" stroke-opacity="0.39" stroke-width="0.9"/>
<path d="M230.8,462.03 L234.9,308.4 Q235.2,305.9 237.7,305.9" fill="none" stroke="#1010da" stroke-opacity="0.54" stroke-width="0.9"/>
<path d="M231.3,462.76 L235.4,308.4 Q235.7,305.9 238.2,305.9" fill="none" stroke="#1010da" stroke-opacity="0.42" stroke-width="0.9"/>
<path d="M231.8,462.37 L235.9,308.4 Q236.2,305.9 238.7,305.9" fill="none" stroke="#1010da" stroke-opacity="0.59" stroke-width="0.9"/>
<path d="M232.3,462.48 L236.4,308.4 Q236.7,305.9 239.2,305.9" fill="none" stroke="#1010da" stroke-opacity="0.67" stroke-width="0.9"/>
<path d="M232.8,464.35 L236.9,308.4 Q237.2,305.9 239.7,305.9 M268.3,464.81 L272.4,308.4 Q272.7,305.9 275.2,305.9" fill="none" stroke="#1010da" stroke-opacity="0.32" stroke-width="0.9"/>
<path d="M233.3,461.69 L237.4,308.4 Q237.7,305.9 240.2,305.9" fill="none" stroke="#1010da" stroke-opacity="0.48" stroke-width="0.9"/>
<path d="M233.8,461.56 L237.9,308.4 Q238.2,305.9 240.7,305.9" fill="none" stroke="#1010da" stroke-opacity="0.56" stroke-width="0.9"/>
<path d="M234.3,464.34 L238.4,308.4 Q238.7,305.9 241.2,305.9" fill="none" stroke="#1010da" stroke-opacity="0.66" stroke-width="0.9"/>
<path d="M234.8,464.03 L238.9,308.4 Q239.2,305.9 241.7,305.9" fill="none" stroke="#1010da" stroke-opacity="0.68" stroke-width="0.9"/>
<path d="M235.3,463.01 L239.4,308.4 Q239.7,305.9 242.2,305.9 M235.8,465.21 L239.9,308.4 Q240.2,305.9 242.7,305.9 M236.8,462.38 L240.9,308.4 Q241.2,305.9 243.7,305.9 M237.3,463.46 L241.4,308.4 Q241.7,305.9 244.2,305.9 M237.8,465.18 L241.9,308.4 Q242.2,305.9 244.7,305.9 M238.3,463.27 L242.4,308.4 Q242.7,305.9 245.2,305.9 M238.8,464.6 L242.9,308.4 Q243.2,305.9 245.7,305.9 M239.3,464.11 L243.4,308.4 Q243.7,305.9 246.2,305.9 M239.8,462.67 L243.9,308.4 Q244.2,305.9 246.7,305.9 M240.3,464.99 L244.4,308.4 Q244.7,305.9 247.2,305.9 M240.8,464.54 L244.9,308.4 Q245.2,305.9 247.7,305.9 M241.3,463.17 L245.4,308.4 Q245.7,305.9 248.2,305.9 M241.8,463.81 L245.9,308.4 Q246.2,305.9 248.7,305.9 M242.8,462.06 L246.9,308.4 Q247.2,305.9 249.7,305.9 M243.3,464.36 L247.4,308.4 Q247.7,305.9 250.2,305.9 M243.8,461.9 L247.9,308.4 Q248.2,305.9 250.7,305.9 M244.3,462.31 L248.4,308.4 Q248.7,305.9 251.2,305.9 M244.8,463.55 L248.9,308.4 Q249.2,305.9 251.7,305.9 M245.3,462.68 L249.4,308.4 Q249.7,305.9 252.2,305.9 M245.8,465.59 L249.9,308.4 Q250.2,305.9 252.7,305.9 M246.3,461.66 L250.4,308.4 Q250.7,305.9 253.2,305.9 M247.8,462.08 L251.9,308.4 Q252.2,305.9 254.7,305.9 M248.3,461.68 L252.4,308.4 Q252.7,305.9 255.2,305.9 M248.8,462.95 L252.9,308.4 Q253.2,305.9 255.7,305.9 M249.8,463.45 L253.9,308.4 Q254.2,305.9 256.7,305.9 M250.3,463.28 L254.4,308.4 Q254.7,305.9 257.2,305.9 M250.8,463.92 L254.9,308.4 Q255.2,305.9 257.7,305.9 M251.3,464.53 L255.4,308.4 Q255.7,305.9 258.2,305.9 M251.8,463.14 L255.9,308.4 Q256.2,305.9 258.7,305.9 M252.3,464.57 L256.4,308.4 Q256.7,305.9 259.2,305.9 M252.8,462.23 L256.9,308.4 Q257.2,305.9 259.7,305.9 M253.3,465.16 L257.4,308.4 Q257.7,305.9 260.2,305.9 M253.8,464.35 L257.9,308.4 Q258.2,305.9 260.7,305.9 M254.3,464.26 L258.4,308.4 Q258.7,305.9 261.2,305.9 M254.8,463.24 L258.9,308.4 Q259.2,305.9 261.7,305.9 M255.3,464.03 L259.4,308.4 Q259.7,305.9 262.2,305.9 M256.3,464.03 L260.4,308.4 Q260.7,305.9 263.2,305.9 M256.8,463.11 L260.9,308.4 Q261.2,305.9 263.7,305.9 M257.3,464 L261.4,308.4 Q261.7,305.9 264.2,305.9 M257.8,464.24 L261.9,308.4 Q262.2,305.9 264.7,305.9 M258.3,462.02 L262.4,308.4 Q262.7,305.9 265.2,305.9 M258.8,464.7 L262.9,308.4 Q263.2,305.9 265.7,305.9 M259.3,463.4 L263.4,308.4 Q263.7,305.9 266.2,305.9 M260.3,464.72 L264.4,308.4 Q264.7,305.9 267.2,305.9 M261.3,463.63 L265.4,308.4 Q265.7,305.9 268.2,305.9 M261.8,463.5 L265.9,308.4 Q266.2,305.9 268.7,305.9 M262.3,464.93 L266.4,308.4 Q266.7,305.9 269.2,305.9 M262.8,463.05 L266.9,308.4 Q267.2,305.9 269.7,305.9 M263.8,464.63 L267.9,308.4 Q268.2,305.9 270.7,305.9" fill="none" stroke="#1010da" stroke-opacity="1.00" stroke-width="0.9"/>
<path d="M236.3,461.31 L240.4,308.4 Q240.7,305.9 243.2,305.9" fill="none" stroke="#5353e4" stroke-opacity="1.00" stroke-width="0.9"/>
<path d="M242.3,465.18 L246.4,308.4 Q246.7,305.9 249.2,305.9" fill="none" stroke="#4141e2" stroke-opacity="1.00" stroke-width="0.9"/>
<path d="M246.8,462.93 L250.9,308.4 Q251.2,305.9 253.7,305.9" fill="none" stroke="#0d0db1" stroke-opacity="1.00" stroke-width="0.9"/>
<path d="M247.3,464.5 L251.4,308.4 Q251.7,305.9 254.2,305.9" fill="none" stroke="#0e0ec0" stroke-opacity="1.00" stroke-width="0.9"/>
<path d="M249.3,464.76 L253.4,308.4 Q253.7,305.9 256.2,305.9" fill="none" stroke="#3e3ee1" stroke-opacity="1.00" stroke-width="0.9"/>
<path d="M255.8,464.72 L259.9,308.4 Q260.2,305.9 262.7,305.9" fill="none" stroke="#3f3fe1" stroke-opacity="1.00" stroke-width="0.9"/>
<path d="M259.8,463.65 L263.9,308.4 Q264.2,305.9 266.7,305.9" fill="none" stroke="#0d0daf" stroke-opacity="1.00" stroke-width="0.9"/>
<path d="M260.8,461.65 L264.9,308.4 Q265.2,305.9 267.7,305.9" fill="none" stroke="#0e0eba" stroke-opacity="1.00" stroke-width="0.9"/>
<path d="M263.3,464.28 L267.4,308.4 Q267.7,305.9 270.2,305.9" fill="none" stroke="#0d0db3" stroke-opacity="1.00" stroke-width="0.9"/>
<path d="M264.8,461.45 L268.9,308.4 Q269.2,305.9 271.7,305.9 M268.8,462.15 L272.9,308.4 Q273.2,305.9 275.7,305.9" fill="none" stroke="#1010da" stroke-opacity="0.41" stroke-width="0.9"/>
<path d="M265.3,463 L269.4,308.4 Q269.7,305.9 272.2,305.9" fill="none" stroke="#1010da" stroke-opacity="0.36" stroke-width="0.9"/>
<path d="M266.3,464.34 L270.4,308.4 Q270.7,305.9 273.2,305.9" fill="none" stroke="#1010da" stroke-opacity="0.43" stroke-width="0.9"/>
<path d="M266.8,462.39 L270.9,308.4 Q271.2,305.9 273.7,305.9" fill="none" stroke="#1010da" stroke-opacity="0.40" stroke-width="0.9"/>
<path d="M267.8,463.57 L271.9,308.4 Q272.2,305.9 274.7,305.9" fill="none" stroke="#1010da" stroke-opacity="0.69" stroke-width="0.9"/>
<path d="M269.8,464.05 L273.9,308.4 Q274.2,305.9 276.7,305.9" fill="none" stroke="#1010da" stroke-opacity="0.61" stroke-width="0.9"/>
<path d="M271.8,459.58 L275.9,308.4 Q276.2,305.9 278.7,305.9" fill="none" stroke="#1010da" stroke-opacity="0.14" stroke-width="0.9"/>
<path d="M273.3,458.72 L277.4,308.4 Q277.7,305.9 280.2,305.9" fill="none" stroke="#1010da" stroke-opacity="0.16" stroke-width="0.9"/>
<path d="M273.8,460.41 L277.9,308.4 Q278.2,305.9 280.7,305.9 M275.8,464.19 L279.9,308.4 Q280.2,305.9 282.7,305.9" fill="none" stroke="#1010da" stroke-opacity="0.21" stroke-width="0.9"/>
<path d="M276.8,465.36 L280.9,308.4 Q281.2,305.9 283.7,305.9" fill="none" stroke="#1010da" stroke-opacity="0.07" stroke-width="0.9"/>
<path d="M280.3,462.42 L284.4,308.4 Q284.7,305.9 287.2,305.9 M281.3,460.34 L285.4,308.4 Q285.7,305.9 288.2,305.9" fill="none" stroke="#1010da" stroke-opacity="0.04" stroke-width="0.9"/>
<path d="M280.8,464.88 L284.9,308.4 Q285.2,305.9 287.7,305.9" fill="none" stroke="#1010da" stroke-opacity="0.06" stroke-width="0.9"/>
<path d="M281.8,459.11 L285.9,308.4 Q286.2,305.9 288.7,305.9" fill="none" stroke="#1010da" stroke-opacity="0.02" stroke-width="0.9"/>
<path d="M281,441.2 L336,441.2 L335.5,462.5 L281.5,462.5 Z" fill="#14e014"/>
<path d="M282.5,463.5 L286.9,308.4 L332.2,306.9 L327.8,463.5 Z" fill="#14e014"/>
<path d="M277.8,462.44 L281.9,308.4 Q282.2,305.9 284.7,305.9 M344.3,465.33 L348.4,308.4 Q348.7,305.9 351.2,305.9 M347.8,460.67 L351.9,308.4 Q352.2,305.9 354.7,305.9 M355.3,460.48 L359.4,308.4 Q359.7,305.9 362.2,305.9" fill="none" stroke="#14e014" stroke-opacity="0.19" stroke-width="0.9"/>
<path d="M278.3,465.04 L282.4,308.4 Q282.7,305.9 285.2,305.9 M346.8,459.74 L350.9,308.4 Q351.2,305.9 353.7,305.9" fill="none" stroke="#14e014" stroke-opacity="0.22" stroke-width="0.9"/>
<path d="M278.8,462.28 L282.9,308.4 Q283.2,305.9 285.7,305.9 M345.8,464.28 L349.9,308.4 Q350.2,305.9 352.7,305.9" fill="none" stroke="#14e014" stroke-opacity="0.11" stroke-width="0.9"/>
<path d="M279.3,464.88 L283.4,308.4 Q283.7,305.9 286.2,305.9 M349.3,465.54 L353.4,308.4 Q353.7,305.9 356.2,305.9" fill="none" stroke="#14e014" stroke-opacity="0.27" stroke-width="0.9"/>
<path d="M279.8,465.72 L283.9,308.4 Q284.2,305.9 286.7,305.9 M335.8,461.65 L339.9,308.4 Q340.2,305.9 342.7,305.9 M340.8,465.37 L344.9,308.4 Q345.2,305.9 347.7,305.9" fill="none" stroke="#14e014" stroke-opacity="0.24" stroke-width="0.9"/>
<path d="M280.3,463.45 L284.4,308.4 Q284.7,305.9 287.2,305.9 M280.8,463.78 L284.9,308.4 Q285.2,305.9 287.7,305.9 M343.8,460.79 L347.9,308.4 Q348.2,305.9 350.7,305.9 M347.3,459.87 L351.4,308.4 Q351.7,305.9 354.2,305.9 M350.3,465.5 L354.4,308.4 Q354.7,305.9 357.2,305.9" fill="none" stroke="#14e014" stroke-opacity="0.16" stroke-width="0.9"/>
<path d="M281.3,462.99 L285.4,308.4 Q285.7,305.9 288.2,305.9" fill="none" stroke="#14e014" stroke-opacity="0.50" stroke-width="0.9"/>
<path d="M281.8,463.8 L285.9,308.4 Q286.2,305.9 288.7,305.9 M332.3,463.31 L336.4,308.4 Q336.7,305.9 339.2,305.9" fill="none" stroke="#14e014" stroke-opacity="0.55" stroke-width="0.9"/>
<path d="M282.3,465.54 L286.4,308.4 Q286.7,305.9 289.2,305.9 M329.3,464.11 L333.4,308.4 Q333.7,305.9 336.2,305.9" fill="none" stroke="#14e014" stroke-opacity="0.38" stroke-width="0.9"/>
<path d="M282.8,464.31 L286.9,308.4 Q287.2,305.9 289.7,305.9" fill="none" stroke="#33e433" stroke-opacity="1.00" stroke-width="0.9"/>
<path d="M283.3,465.38 L287.4,308.4 Q287.7,305.9 290.2,305.9 M283.8,463.64 L287.9,308.4 Q288.2,305.9 290.7,305.9 M284.3,464.97 L288.4,308.4 Q288.7,305.9 291.2,305.9 M284.8,463.46 L288.9,308.4 Q289.2,305.9 291.7,305.9 M285.3,463.99 L289.4,308.4 Q289.7,305.9 292.2,305.9 M285.8,462.82 L289.9,308.4 Q290.2,305.9 292.7,305.9 M286.3,463.32 L290.4,308.4 Q290.7,305.9 293.2,305.9 M286.8,462.72 L290.9,308.4 Q291.2,305.9 293.7,305.9 M287.3,465.89 L291.4,308.4 Q291.7,305.9 294.2,305.9 M287.8,465.06 L291.9,308.4 Q292.2,305.9 294.7,305.9 M288.3,462.93 L292.4,308.4 Q292.7,305.9 295.2,305.9 M288.8,464.14 L292.9,308.4 Q293.2,305.9 295.7,305.9 M289.3,465.03 L293.4,308.4 Q293.7,305.9 296.2,305.9 M289.8,464.75 L293.9,308.4 Q294.2,305.9 296.7,305.9 M290.3,463.95 L294.4,308.4 Q294.7,305.9 297.2,305.9 M290.8,462.85 L294.9,308.4 Q295.2,305.9 297.7,305.9 M291.8,464.46 L295.9,308.4 Q296.2,305.9 298.7,305.9 M292.3,465.59 L296.4,308.4 Q296.7,305.9 299.2,305.9 M292.8,464.28 L296.9,308.4 Q297.2,305.9 299.7,305.9 M293.3,464.63 L297.4,308.4 Q297.7,305.9 300.2,305.9 M293.8,464.56 L297.9,308.4 Q298.2,305.9 300.7,305.9 M294.3,464.5 L298.4,308.4 Q298.7,305.9 301.2,305.9 M294.8,464.93 L298.9,308.4 Q299.2,305.9 301.7,305.9 M295.3,462.32 L299.4,308.4 Q299.7,305.9 302.2,305.9 M296.3,463.16 L300.4,308.4 Q300.7,305.9 303.2,305.9 M296.8,465.04 L300.9,308.4 Q301.2,305.9 303.7,305.9 M297.3,462.66 L301.4,308.4 Q301.7,305.9 304.2,305.9 M297.8,463.4 L301.9,308.4 Q302.2,305.9 304.7,305.9 M298.3,463.44 L302.4,308.4 Q302.7,305.9 305.2,305.9 M298.8,465.7 L302.9,308.4 Q303.2,305.9 305.7,305.9 M299.3,464.05 L303.4,308.4 Q303.7,305.9 306.2,305.9 M300.3,465.63 L304.4,308.4 Q304.7,305.9 307.2,305.9 M300.8,461.56 L304.9,308.4 Q305.2,305.9 307.7,305.9 M301.3,464.16 L305.4,308.4 Q305.7,305.9 308.2,305.9 M301.8,465.91 L305.9,308.4 Q306.2,305.9 308.7,305.9 M302.3,463.36 L306.4,308.4 Q306.7,305.9 309.2,305.9 M302.8,464.4 L306.9,308.4 Q307.2,305.9 309.7,305.9 M303.3,462.18 L307.4,308.4 Q307.7,305.9 310.2,305.9 M304.3,465.85 L308.4,308.4 Q308.7,305.9 311.2,305.9 M304.8,465.41 L308.9,308.4 Q309.2,305.9 311.7,305.9 M305.3,461.58 L309.4,308.4 Q309.7,305.9 312.2,305.9 M305.8,462.59 L309.9,308.4 Q310.2,305.9 312.7,305.9 M306.3,462.34 L310.4,308.4 Q310.7,305.9 313.2,305.9 M306.8,464.98 L310.9,308.4 Q311.2,305.9 313.7,305.9 M307.3,465.35 L311.4,308.4 Q311.7,305.9 314.2,305.9 M307.8,461.88 L311.9,308.4 Q312.2,305.9 314.7,305.9 M308.3,464.69 L312.4,308.4 Q312.7,305.9 315.2,305.9 M308.8,465.7 L312.9,308.4 Q313.2,305.9 315.7,305.9 M309.3,465.84 L313.4,308.4 Q313.7,305.9 316.2,305.9 M309.8,461.55 L313.9,308.4 Q314.2,305.9 316.7,305.9 M310.8,462.9 L314.9,308.4 Q315.2,305.9 317.7,305.9 M311.3,462.25 L315.4,308.4 Q315.7,305.9 318.2,305.9 M311.8,463.69 L315.9,308.4 Q316.2,305.9 318.7,305.9 M312.3,463.15 L316.4,308.4 Q316.7,305.9 319.2,305.9 M312.8,463.47 L316.9,308.4 Q317.2,305.9 319.7,305.9 M313.3,462.15 L317.4,308.4 Q317.7,305.9 320.2,305.9 M313.8,463.13 L317.9,308.4 Q318.2,305.9 320.7,305.9 M314.3,464.33 L318.4,308.4 Q318.7,305.9 321.2,305.9 M314.8,463.24 L318.9,308.4 Q319.2,305.9 321.7,305.9 M315.3,465.75 L319.4,308.4 Q319.7,305.9 322.2,305.9 M315.8,464.05 L319.9,308.4 Q320.2,305.9 322.7,305.9 M316.3,461.77 L320.4,308.4 Q320.7,305.9 323.2,305.9 M317.3,464.23 L321.4,308.4 Q321.7,305.9 324.2,305.9 M318.3,463.43 L322.4,308.4 Q322.7,305.9 325.2,305.9 M318.8,463.2 L322.9,308.4 Q323.2,305.9 325.7,305.9 M319.3,464.21 L323.4,308.4 Q323.7,305.9 326.2,305.9 M319.8,465.13 L323.9,308.4 Q324.2,305.9 326.7,305.9 M320.3,461.51 L324.4,308.4 Q324.7,305.9 327.2,305.9 M320.8,463.4 L324.9,308.4 Q325.2,305.9 327.7,305.9 M321.3,465.17 L325.4,308.4 Q325.7,305.9 328.2,305.9 M321.8,461.69 L325.9,308.4 Q326.2,305.9 328.7,305.9 M322.3,465.15 L326.4,308.4 Q326.7,305.9 329.2,305.9 M322.8,464.07 L326.9,308.4 Q327.2,305.9 329.7,305.9 M323.3,465.33 L327.4,308.4 Q327.7,305.9 330.2,305.9 M323.8,464.58 L327.9,308.4 Q328.2,305.9 330.7,305.9 M324.3,463.06 L328.4,308.4 Q328.7,305.9 331.2,305.9 M324.8,463.99 L328.9,308.4 Q329.2,305.9 331.7,305.9 M325.3,462.4 L329.4,308.4 Q329.7,305.9 332.2,305.9 M325.8,465.69 L329.9,308.4 Q330.2,305.9 332.7,305.9 M326.3,464.23 L330.4,308.4 Q330.7,305.9 333.2,305.9 M326.8,463.59 L330.9,308.4 Q331.2,305.9 333.7,305.9 M327.3,462.65 L331.4,308.4 Q331.7,305.9 334.2,305.9 M327.8,465.06 L331.9,308.4 Q332.2,305.9 334.7,305.9" fill="none" stroke="#14e014" stroke-opacity="1.00" stroke-width="0.9"/>
<path d="M291.3,465.65 L295.4,308.4 Q295.7,305.9 298.2,305.9" fill="none" stroke="#27e227" stroke-opacity="1.00" stroke-width="0.9"/>
<path d="M295.8,465.61 L299.9,308.4 Q300.2,305.9 302.7,305.9" fill="none" stroke="#34e434" stroke-opacity="1.00" stroke-width="0.9"/>
<path d="M299.8,465.15 L303.9,308.4 Q304.2,305.9 306.7,305.9" fill="none" stroke="#25e225" stroke-opacity="1.00" stroke-width="0.9"/>
<path d="M303.8,464.58 L307.9,308.4 Q308.2,305.9 310.7,305.9" fill="none" stroke="#22e222" stroke-opacity="1.00" stroke-width="0.9"/>
<path d="M310.3,465.18 L314.4,308.4 Q314.7,305.9 317.2,305.9" fill="none" stroke="#31e431" stroke-opacity="1.00" stroke-width="0.9"/>
<path d="M316.8,465.22 L320.9,308.4 Q321.2,305.9 323.7,305.9" fill="none" stroke="#11c311" stroke-opacity="1.00" stroke-width="0.9"/>
<path d="M317.8,464.21 L321.9,308.4 Q322.2,305.9 324.7,305.9" fill="none" stroke="#12c612" stroke-opacity="1.00" stroke-width="0.9"/>
<path d="M328.3,461.89 L332.4,308.4 Q332.7,305.9 335.2,305.9 M332.8,462.17 L336.9,308.4 Q337.2,305.9 339.7,305.9" fill="none" stroke="#14e014" stroke-opacity="0.52" stroke-width="0.9"/>
<path d="M328.8,464.97 L332.9,308.4 Q333.2,305.9 335.7,305.9" fill="none" stroke="#14e014" stroke-opacity="0.72" stroke-width="0.9"/>
<path d="M329.8,465.48 L333.9,308.4 Q334.2,305.9 336.7,305.9" fill="none" stroke="#14e014" stroke-opacity="0.77" stroke-width="0.9"/>
<path d="M330.3,463.64 L334.4,308.4 Q334.7,305.9 337.2,305.9" fill="none" stroke="#14e014" stroke-opacity="0.54" stroke-width="0.9"/>
<path d="M330.8,462.35 L334.9,308.4 Q335.2,305.9 337.7,305.9" fill="none" stroke="#14e014" stroke-opacity="0.58" stroke-width="0.9"/>
<path d="M331.3,462.31 L335.4,308.4 Q335.7,305.9 338.2,305.9 M337.3,465.01 L341.4,308.4 Q341.7,305.9 344.2,305.9" fill="none" stroke="#14e014" stroke-opacity="0.35" stroke-width="0.9"/>
<path d="M331.8,463.13 L335.9,308.4 Q336.2,305.9 338.7,305.9" fill="none" stroke="#14e014" stroke-opacity="0.63" stroke-width="0.9"/>
<path d="M333.3,465.99 L337.4,308.4 Q337.7,305.9 340.2,305.9 M342.3,465.69 L346.4,308.4 Q346.7,305.9 349.2,305.9 M345.3,465.9 L349.4,308.4 Q349.7,305.9 352.2,305.9" fill="none" stroke="#14e014" stroke-opacity="0.26" stroke-width="0.9"/>
<path d="M333.8,461.98 L337.9,308.4 Q338.2,305.9 340.7,305.9" fill="none" stroke="#14e014" stroke-opacity="0.44" stroke-width="0.9"/>
<path d="M334.3,465.04 L338.4,308.4 Q338.7,305.9 341.2,305.9" fill="none" stroke="#14e014" stroke-opacity="0.57" stroke-width="0.9"/>
<path d="M334.8,464.19 L338.9,308.4 Q339.2,305.9 341.7,305.9 M346.3,461.09 L350.4,308.4 Q350.7,305.9 353.2,305.9" fill="none" stroke="#14e014" stroke-opacity="0.31" stroke-width="0.9"/>
<path d="M335.3,463.84 L339.4,308.4 Q339.7,305.9 342.2,305.9" fill="none" stroke="#14e014" stroke-opacity="0.41" stroke-width="0.9"/>
<path d="M336.3,465.4 L340.4,308.4 Q340.7,305.9 343.2,305.9" fill="none" stroke="#14e014" stroke-opacity="0.74" stroke-width="0.9"/>
<path d="M336.8,464.05 L340.9,308.4 Q341.2,305.9 343.7,305.9" fill="none" stroke="#14e014" stroke-opacity="0.47" stroke-width="0.9"/>
<path d="M337.8,465.76 L341.9,308.4 Q342.2,305.9 344.7,305.9" fill="none" stroke="#14e014" stroke-opacity="0.43" stroke-width="0.9"/>
<path d="M338.3,465.18 L342.4,308.4 Q342.7,305.9 345.2,305.9" fill="none" stroke="#14e014" stroke-opacity="0.60" stroke-width="0.9"/>
<path d="M338.8,462.64 L342.9,308.4 Q343.2,305.9 345.7,305.9" fill="none" stroke="#14e014" stroke-opacity="0.69" stroke-width="0.9"/>
<path d="M339.3,462.4 L343.4,308.4 Q343.7,305.9 346.2,305.9 M348.8,459.25 L352.9,308.4 Q353.2,305.9 355.7,305.9 M350.8,462.17 L354.9,308.4 Q355.2,305.9 357.7,305.9" fill="none" stroke="#14e014" stroke-opacity="0.23" stroke-width="0.9"/>
<path d="M339.8,461.88 L343.9,308.4 Q344.2,305.9 346.7,305.9 M344.8,464.5 L348.9,308.4 Q349.2,305.9 351.7,305.9" fill="none" stroke="#14e014" stroke-opacity="0.30" stroke-width="0.9"/>
<path d="M340.3,465.09 L344.4,308.4 Q344.7,305.9 347.2,305.9 M341.3,461.78 L345.4,308.4 Q345.7,305.9 348.2,305.9 M355.8,460.8 L359.9,308.4 Q360.2,305.9 362.7,305.9" fill="none" stroke="#14e014" stroke-opacity="0.13" stroke-width="0.9"/>
<path d="M341.8,460.8 L345.9,308.4 Q346.2,305.9 348.7,305.9 M351.3,462.34 L355.4,308.4 Q355.7,305.9 358.2,305.9 M353.3,460.9 L357.4,308.4 Q357.7,305.9 360.2,305.9 M354.3,465.32 L358.4,308.4 Q358.7,305.9 361.2,305.9" fill="none" stroke="#14e014" stroke-opacity="0.14" stroke-width="0.9"/>
<path d="M342.8,462.14 L346.9,308.4 Q347.2,305.9 349.7,305.9" fill="none" stroke="#14e014" stroke-opacity="0.28" stroke-width="0.9"/>
<path d="M343.3,465.94 L347.4,308.4 Q347.7,305.9 350.2,305.9" fill="none" stroke="#14e014" stroke-opacity="0.15" stroke-width="0.9"/>
<path d="M348.3,459.09 L352.4,308.4 Q352.7,305.9 355.2,305.9" fill="none" stroke="#14e014" stroke-opacity="0.12" stroke-width="0.9"/>
<path d="M349.8,459.98 L353.9,308.4 Q354.2,305.9 356.7,305.9" fill="none" stroke="#14e014" stroke-opacity="0.25" stroke-width="0.9"/>
<path d="M351.8,460.55 L355.9,308.4 Q356.2,305.9 358.7,305.9" fill="none" stroke="#14e014" stroke-opacity="0.18" stroke-width="0.9"/>
<path d="M352.3,462.87 L356.4,308.4 Q356.7,305.9 359.2,305.9 M354.8,459.4 L358.9,308.4 Q359.2,305.9 361.7,305.9" fill="none" stroke="#14e014" stroke-opacity="0.08" stroke-width="0.9"/>
<path d="M352.8,460.86 L356.9,308.4 Q357.2,305.9 359.7,305.9" fill="none" stroke="#14e014" stroke-opacity="0.10" stroke-width="0.9"/>
<path d="M353.8,460.17 L357.9,308.4 Q358.2,305.9 360.7,305.9" fill="none" stroke="#14e014" stroke-opacity="0.20" stroke-width="0.9"/>
<path d="M356.3,465.94 L360.4,308.4 Q360.7,305.9 363.2,305.9" fill="none" stroke="#14e014" stroke-opacity="0.04" stroke-width="0.9"/>
<path d="M356.8,459.68 L360.9,308.4 Q361.2,305.9 363.7,305.9" fill="none" stroke="#14e014" stroke-opacity="0.09" stroke-width="0.9"/>
<path d="M357.3,459.4 L361.4,308.4 Q361.7,305.9 364.2,305.9 M359.3,462.05 L363.4,308.4 Q363.7,305.9 366.2,305.9 M362.3,463.08 L366.4,308.4 Q366.7,305.9 369.2,305.9 M363.8,464.89 L367.9,308.4 Q368.2,305.9 370.7,305.9 M364.3,459.11 L368.4,308.4 Q368.7,305.9 371.2,305.9 M364.8,465.1 L368.9,308.4 Q369.2,305.9 371.7,305.9" fill="none" stroke="#14e014" stroke-opacity="0.05" stroke-width="0.9"/>
<path d="M357.8,465.85 L361.9,308.4 Q362.2,305.9 364.7,305.9 M359.8,463 L363.9,308.4 Q364.2,305.9 366.7,305.9" fill="none" stroke="#14e014" stroke-opacity="0.07" stroke-width="0.9"/>
<path d="M358.3,461.39 L362.4,308.4 Q362.7,305.9 365.2,305.9 M358.8,464.83 L362.9,308.4 Q363.2,305.9 365.7,305.9 M360.3,464.39 L364.4,308.4 Q364.7,305.9 367.2,305.9 M361.8,463.29 L365.9,308.4 Q366.2,305.9 368.7,305.9 M362.8,464.13 L366.9,308.4 Q367.2,305.9 369.7,305.9 M363.3,459.39 L367.4,308.4 Q367.7,305.9 370.2,305.9 M366.3,462.64 L370.4,308.4 Q370.7,305.9 373.2,305.9 M367.3,465.06 L371.4,308.4 Q371.7,305.9 374.2,305.9" fill="none" stroke="#14e014" stroke-opacity="0.03" stroke-width="0.9"/>
<path d="M360.8,459.55 L364.9,308.4 Q365.2,305.9 367.7,305.9" fill="none" stroke="#14e014" stroke-opacity="0.06" stroke-width="0.9"/>
<path d="M361.3,462.47 L365.4,308.4 Q365.7,305.9 368.2,305.9 M365.3,464.82 L369.4,308.4 Q369.7,305.9 372.2,305.9 M365.8,461.6 L369.9,308.4 Q370.2,305.9 372.7,305.9 M366.8,459.85 L370.9,308.4 Q371.2,305.9 373.7,305.9 M367.8,461.67 L371.9,308.4 Q372.2,305.9 374.7,305.9 M368.3,465.11 L372.4,308.4 Q372.7,305.9 375.2,305.9 M368.8,462.59 L372.9,308.4 Q373.2,305.9 375.7,305.9 M369.3,459.14 L373.4,308.4 Q373.7,305.9 376.2,305.9 M369.8,460.28 L373.9,308.4 Q374.2,305.9 376.7,305.9" fill="none" stroke="#14e014" stroke-opacity="0.02" stroke-width="0.9"/>
<line x1="168" y1="440.3" x2="216.5" y2="440.3" stroke="#fff" stroke-opacity="0.35" stroke-width="1"/>
<line x1="220" y1="440.3" x2="272" y2="440.3" stroke="#fff" stroke-opacity="0.35" stroke-width="1"/>
<line x1="279" y1="440.3" x2="337" y2="440.3" stroke="#fff" stroke-opacity="0.35" stroke-width="1"/>
<line x1="136" y1="305.9" x2="176" y2="305.9" stroke="#8a6870" stroke-width="1.0"/>
<line x1="352" y1="305.9" x2="509.5" y2="305.9" stroke="#8cd08c" stroke-width="1.2"/>
<path d="M122.8,335.6 A13.1,4 0 0 1 130.5,331.96 M141,331.92 A13.1,4 0 0 1 149,335.6" fill="none" stroke="#1e1e1e" stroke-width="1.3"/>
<path d="M159.8,365 A34,3.8 0 0 1 174,361.91 M218,362.33 A34,3.8 0 0 1 227.8,365" fill="none" stroke="#1e1e1e" stroke-width="1.3"/>
<path d="M205.7,397.3 A40.9,3.6 0 0 1 223,394.36 M275,394.71 A40.9,3.6 0 0 1 287.5,397.3" fill="none" stroke="#1e1e1e" stroke-width="1.3"/>
<path d="M268.7,430.6 A47.5,4.4 0 0 1 288,427.06 M350,427.51 A47.5,4.4 0 0 1 363.7,430.6" fill="none" stroke="#1e1e1e" stroke-width="1.3"/>
<path d="M122.8,335.6 A13.1,4 0 0 0 149,335.6" fill="none" stroke="#1e1e1e" stroke-width="1.3"/>
<line x1="149" y1="336.2" x2="398.9" y2="335.61" stroke="#1e1e1e" stroke-width="1.2"/>
<path d="M403.7,335.6 L398.9,337.51 L398.9,333.71 Z" fill="#1e1e1e"/>
<path d="M159.8,365 A34,3.8 0 0 0 227.8,365" fill="none" stroke="#1e1e1e" stroke-width="1.3"/>
<line x1="227.8" y1="365.6" x2="398.9" y2="365.79" stroke="#1e1e1e" stroke-width="1.2"/>
<path d="M403.7,365.8 L398.9,367.69 L398.9,363.89 Z" fill="#1e1e1e"/>
<path d="M205.7,397.3 A40.9,3.6 0 0 0 287.5,397.3" fill="none" stroke="#1e1e1e" stroke-width="1.3"/>
<line x1="287.5" y1="397.9" x2="398.9" y2="397.61" stroke="#1e1e1e" stroke-width="1.2"/>
<path d="M403.7,397.6 L398.9,399.51 L398.9,395.71 Z" fill="#1e1e1e"/>
<path d="M268.7,430.6 A47.5,4.4 0 0 0 363.7,430.6" fill="none" stroke="#1e1e1e" stroke-width="1.3"/>
<line x1="363.7" y1="431.2" x2="398.9" y2="430.5" stroke="#1e1e1e" stroke-width="1.2"/>
<path d="M403.7,430.4 L398.94,432.4 L398.86,428.6 Z" fill="#1e1e1e"/>
<text transform="translate(454.6,323.6) scale(0.86,1)" text-anchor="middle" font-size="10.8" fill="#2a2a2a" stroke="#2a2a2a" stroke-width="0.26">“111”</text>
<text transform="translate(454.6,335.9) scale(0.86,1)" text-anchor="middle" font-size="10.8" fill="#2a2a2a" stroke="#2a2a2a" stroke-width="0.26">Mean：0.944ns</text>
<text transform="translate(454.6,347.7) scale(0.86,1)" text-anchor="middle" font-size="10.8" fill="#2a2a2a" stroke="#2a2a2a" stroke-width="0.26">Standard Deviation：18.8ps</text>
<text transform="translate(454.6,357.3) scale(0.86,1)" text-anchor="middle" font-size="10.8" fill="#2a2a2a" stroke="#2a2a2a" stroke-width="0.26">“110”</text>
<text transform="translate(454.6,369.1) scale(0.86,1)" text-anchor="middle" font-size="10.8" fill="#2a2a2a" stroke="#2a2a2a" stroke-width="0.26">Mean：1.646ns</text>
<text transform="translate(454.6,381.6) scale(0.86,1)" text-anchor="middle" font-size="10.8" fill="#2a2a2a" stroke="#2a2a2a" stroke-width="0.26">Standard Deviation：116ps</text>
<text transform="translate(454.6,392.5) scale(0.86,1)" text-anchor="middle" font-size="10.8" fill="#2a2a2a" stroke="#2a2a2a" stroke-width="0.26">“100”</text>
<text transform="translate(454.6,405.2) scale(0.86,1)" text-anchor="middle" font-size="10.8" fill="#2a2a2a" stroke="#2a2a2a" stroke-width="0.26">Mean：2.271ns</text>
<text transform="translate(454.6,417.7) scale(0.86,1)" text-anchor="middle" font-size="10.8" fill="#2a2a2a" stroke="#2a2a2a" stroke-width="0.26">Standard Deviation：141ps</text>
<text transform="translate(454.6,429.2) scale(0.86,1)" text-anchor="middle" font-size="10.8" fill="#2a2a2a" stroke="#2a2a2a" stroke-width="0.26">“000”</text>
<text transform="translate(454.6,441.7) scale(0.86,1)" text-anchor="middle" font-size="10.8" fill="#2a2a2a" stroke="#2a2a2a" stroke-width="0.26">Mean：2.886ns</text>
<text transform="translate(454.6,454.3) scale(0.86,1)" text-anchor="middle" font-size="10.8" fill="#2a2a2a" stroke="#2a2a2a" stroke-width="0.26">Standard Deviation：168ps</text>
<rect x="42.3" y="294.8" width="469.2" height="190.1" fill="none" stroke="#111" stroke-width="1.8"/>
<line x1="42.3" y1="484.9" x2="42.3" y2="490.9" stroke="#111" stroke-width="1.8"/>
<text x="42.3" y="501.2" text-anchor="middle" font-size="12.2" textLength="5.6" lengthAdjust="spacingAndGlyphs" fill="#2a2a2a" stroke="#2a2a2a" stroke-width="0.25">0</text>
<line x1="89.2" y1="484.9" x2="89.2" y2="490.9" stroke="#111" stroke-width="1.8"/>
<text x="89.2" y="501.2" text-anchor="middle" font-size="12.2" textLength="13.7" lengthAdjust="spacingAndGlyphs" fill="#2a2a2a" stroke="#2a2a2a" stroke-width="0.25">0.5</text>
<line x1="136.1" y1="484.9" x2="136.1" y2="490.9" stroke="#111" stroke-width="1.8"/>
<text x="136.1" y="501.2" text-anchor="middle" font-size="12.2" textLength="13.7" lengthAdjust="spacingAndGlyphs" fill="#2a2a2a" stroke="#2a2a2a" stroke-width="0.25">1.0</text>
<line x1="183" y1="484.9" x2="183" y2="490.9" stroke="#111" stroke-width="1.8"/>
<text x="183" y="501.2" text-anchor="middle" font-size="12.2" textLength="13.7" lengthAdjust="spacingAndGlyphs" fill="#2a2a2a" stroke="#2a2a2a" stroke-width="0.25">1.5</text>
<line x1="229.9" y1="484.9" x2="229.9" y2="490.9" stroke="#111" stroke-width="1.8"/>
<text x="229.9" y="501.2" text-anchor="middle" font-size="12.2" textLength="13.7" lengthAdjust="spacingAndGlyphs" fill="#2a2a2a" stroke="#2a2a2a" stroke-width="0.25">2.0</text>
<line x1="276.8" y1="484.9" x2="276.8" y2="490.9" stroke="#111" stroke-width="1.8"/>
<text x="276.8" y="501.2" text-anchor="middle" font-size="12.2" textLength="13.7" lengthAdjust="spacingAndGlyphs" fill="#2a2a2a" stroke="#2a2a2a" stroke-width="0.25">2.5</text>
<line x1="323.7" y1="484.9" x2="323.7" y2="490.9" stroke="#111" stroke-width="1.8"/>
<text x="323.7" y="501.2" text-anchor="middle" font-size="12.2" textLength="13.7" lengthAdjust="spacingAndGlyphs" fill="#2a2a2a" stroke="#2a2a2a" stroke-width="0.25">3.0</text>
<line x1="370.6" y1="484.9" x2="370.6" y2="490.9" stroke="#111" stroke-width="1.8"/>
<text x="370.6" y="501.2" text-anchor="middle" font-size="12.2" textLength="13.7" lengthAdjust="spacingAndGlyphs" fill="#2a2a2a" stroke="#2a2a2a" stroke-width="0.25">3.5</text>
<line x1="417.5" y1="484.9" x2="417.5" y2="490.9" stroke="#111" stroke-width="1.8"/>
<text x="417.5" y="501.2" text-anchor="middle" font-size="12.2" textLength="13.7" lengthAdjust="spacingAndGlyphs" fill="#2a2a2a" stroke="#2a2a2a" stroke-width="0.25">4.0</text>
<line x1="464.4" y1="484.9" x2="464.4" y2="490.9" stroke="#111" stroke-width="1.8"/>
<text x="464.4" y="501.2" text-anchor="middle" font-size="12.2" textLength="13.7" lengthAdjust="spacingAndGlyphs" fill="#2a2a2a" stroke="#2a2a2a" stroke-width="0.25">4.5</text>
<line x1="511.3" y1="484.9" x2="511.3" y2="490.9" stroke="#111" stroke-width="1.8"/>
<text x="511.3" y="502.5" text-anchor="middle" font-size="12.2" textLength="13.7" lengthAdjust="spacingAndGlyphs" fill="#2a2a2a" stroke="#2a2a2a" stroke-width="0.25">5.0</text>
<line x1="35.5" y1="441.2" x2="42.3" y2="441.2" stroke="#111" stroke-width="1.8"/>
<text x="30" y="444.4" text-anchor="end" font-size="12.2" textLength="5.6" lengthAdjust="spacingAndGlyphs" fill="#2a2a2a" stroke="#2a2a2a" stroke-width="0.25">0</text>
<line x1="35.5" y1="397.6" x2="42.3" y2="397.6" stroke="#111" stroke-width="1.8"/>
<text x="33.6" y="401.2" text-anchor="end" font-size="12.2" textLength="16.7" lengthAdjust="spacingAndGlyphs" fill="#2a2a2a" stroke="#2a2a2a" stroke-width="0.25">300</text>
<line x1="35.5" y1="354" x2="42.3" y2="354" stroke="#111" stroke-width="1.8"/>
<text x="33.6" y="357.6" text-anchor="end" font-size="12.2" textLength="16.7" lengthAdjust="spacingAndGlyphs" fill="#2a2a2a" stroke="#2a2a2a" stroke-width="0.25">600</text>
<line x1="35.5" y1="310.4" x2="42.3" y2="310.4" stroke="#111" stroke-width="1.8"/>
<text x="33.6" y="314" text-anchor="end" font-size="12.2" textLength="16.7" lengthAdjust="spacingAndGlyphs" fill="#2a2a2a" stroke="#2a2a2a" stroke-width="0.25">900</text>
<text y="513.2" font-size="11.6" fill="#2a2a2a"><tspan x="257">time</tspan><tspan x="277.6" font-size="10.5" fill="#555">（</tspan><tspan x="288.8">ns</tspan><tspan x="300.8" font-size="10.5" fill="#555">）</tspan></text>
<text transform="translate(9.7,397.8) rotate(-90)" font-size="11.2" fill="#2a2a2a" stroke="#2a2a2a" stroke-width="0.15"><tspan x="0">V</tspan><tspan x="10.1" dy="-0.6" font-size="8.5" fill="#555" stroke="none">（</tspan><tspan x="17.9" dy="0.6" font-size="10">m</tspan><tspan x="27.6">V</tspan><tspan x="37.6" dy="-0.6" font-size="8.5" fill="#555" stroke="none">）</tspan></text>
<text x="43" y="283.6" font-size="18.6" fill="#111" stroke="#111" stroke-width="0.3">CSI outputs of FA</text>
<text x="273.4" y="535.6" text-anchor="middle" font-size="18" fill="#111" stroke="#111" stroke-width="0.3">(b)</text>
</svg>
</body></html>
